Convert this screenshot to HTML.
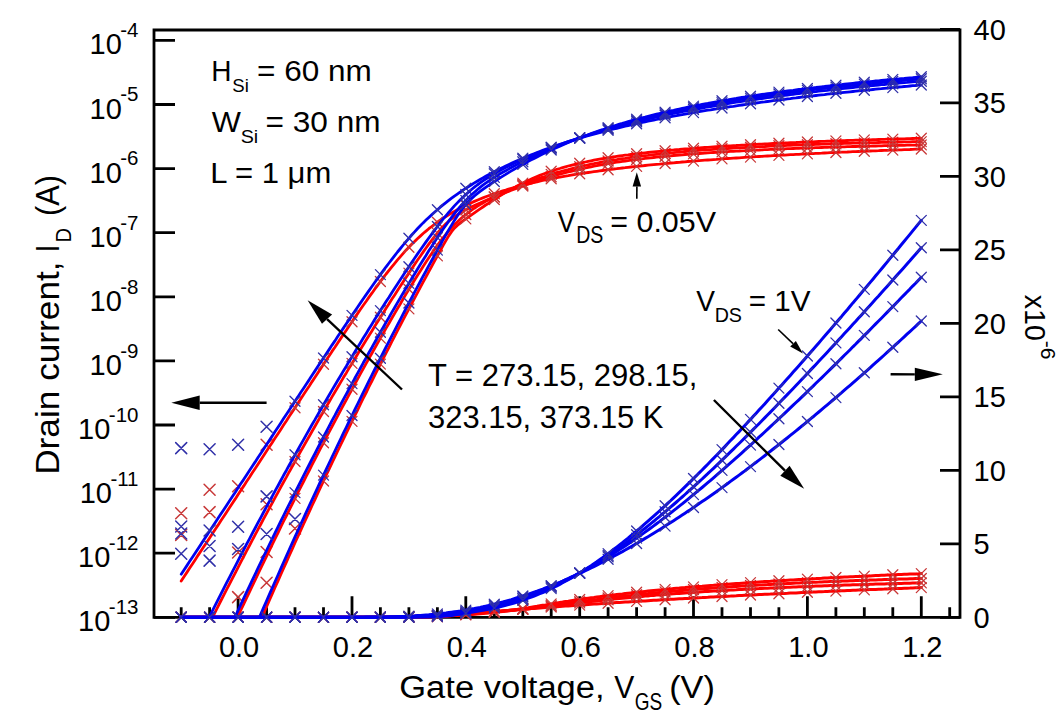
<!DOCTYPE html>
<html><head><meta charset="utf-8"><style>html,body{margin:0;padding:0;background:#fff}svg{display:block}</style></head>
<body><svg width="1058" height="712" viewBox="0 0 1058 712" font-family="Liberation Sans, sans-serif">
<rect width="1058" height="712" fill="#fff"/>
<path d="M154.0,30.0 H960.0 V617.3 H154.0 Z" fill="none" stroke="#000" stroke-width="2.8"/>
<path d="M154.0,40.4H175.0M154.0,104.5H175.0M154.0,168.6H175.0M154.0,232.7H175.0M154.0,296.8H175.0M154.0,360.9H175.0M154.0,425.0H175.0M154.0,489.1H175.0M154.0,553.2H175.0M154.0,617.3H175.0M960.0,617.3H940.0M960.0,543.8H940.0M960.0,470.3H940.0M960.0,396.8H940.0M960.0,323.3H940.0M960.0,249.8H940.0M960.0,176.3H940.0M960.0,102.8H940.0M960.0,29.3H940.0M181.2,617.3V607.3M209.6,617.3V607.3M238.1,617.3V596.3M266.6,617.3V607.3M295.0,617.3V607.3M323.5,617.3V607.3M352.0,617.3V596.3M380.4,617.3V607.3M408.9,617.3V607.3M437.4,617.3V607.3M465.8,617.3V596.3M494.3,617.3V607.3M522.8,617.3V607.3M551.2,617.3V607.3M579.7,617.3V596.3M608.1,617.3V607.3M636.6,617.3V607.3M665.1,617.3V607.3M693.5,617.3V596.3M722.0,617.3V607.3M750.5,617.3V607.3M778.9,617.3V607.3M807.4,617.3V596.3M835.9,617.3V607.3M864.3,617.3V607.3M892.8,617.3V607.3M921.3,617.3V596.3M949.7,617.3V607.3" stroke="#000" stroke-width="2.8" fill="none"/>
<defs><clipPath id="pa"><rect x="155" y="31" width="804" height="586"/></clipPath></defs>
<g fill="none" stroke-linejoin="round" stroke-linecap="round">
<path d="M175.7,507.8L186.7,518.8M175.7,518.8L186.7,507.8M175.7,529.5L186.7,540.5M175.7,540.5L186.7,529.5M204.1,484.2L215.1,495.2M204.1,495.2L215.1,484.2M204.1,506.6L215.1,517.6M204.1,517.6L215.1,506.6M232.6,480.8L243.6,491.8M232.6,491.8L243.6,480.8M232.6,547.0L243.6,558.0M232.6,558.0L243.6,547.0M232.6,591.6L243.6,602.6M232.6,602.6L243.6,591.6M261.1,439.2L272.1,450.2M261.1,450.2L272.1,439.2M261.1,498.8L272.1,509.8M261.1,509.8L272.1,498.8M261.1,546.5L272.1,557.5M261.1,557.5L272.1,546.5M261.1,577.3L272.1,588.3M261.1,588.3L272.1,577.3M289.5,523.0L300.5,534.0M289.5,534.0L300.5,523.0" stroke="#c83838" stroke-width="1.5"/>
<path clip-path="url(#pa)" d="M181.2,581.1 L184.0,576.7 L186.9,572.4 L189.7,568.1 L192.6,563.8 L195.4,559.5 L198.2,555.1 L201.1,550.8 L203.9,546.5 L206.8,542.2 L209.6,537.9 L212.5,533.5 L215.3,529.2 L218.2,524.9 L221.0,520.5 L223.9,516.2 L226.7,511.9 L229.6,507.5 L232.4,503.2 L235.3,498.9 L238.1,494.5 L240.9,490.2 L243.8,485.9 L246.6,481.5 L249.5,477.2 L252.3,472.8 L255.2,468.5 L258.0,464.2 L260.9,459.8 L263.7,455.5 L266.6,451.1 L269.4,446.8 L272.3,442.4 L275.1,438.1 L278.0,433.7 L280.8,429.4 L283.6,425.0 L286.5,420.7 L289.3,416.3 L292.2,412.0 L295.0,407.7 L297.9,403.3 L300.7,399.0 L303.6,394.6 L306.4,390.3 L309.3,386.0 L312.1,381.6 L315.0,377.3 L317.8,373.0 L320.6,368.7 L323.5,364.3 L326.3,360.0 L329.2,355.7 L332.0,351.4 L334.9,347.2 L337.7,342.9 L340.6,338.6 L343.4,334.4 L346.3,330.2 L349.1,325.9 L352.0,321.8 L354.8,317.6 L357.7,313.4 L360.5,309.3 L363.3,305.2 L366.2,301.2 L369.0,297.1 L371.9,293.2 L374.7,289.2 L377.6,285.3 L380.4,281.5 L383.3,277.7 L386.1,274.0 L389.0,270.4 L391.8,266.8 L394.7,263.3 L397.5,259.9 L400.4,256.6 L403.2,253.4 L406.0,250.2 L408.9,247.2 L411.7,244.3 L414.6,241.4 L417.4,238.7 L420.3,236.1 L423.1,233.5 L426.0,231.1 L428.8,228.7 L431.7,226.5 L434.5,224.3 L437.4,222.2 L440.2,220.2 L443.0,218.3 L445.9,216.5 L448.7,214.7 L451.6,213.0 L454.4,211.4 L457.3,209.8 L460.1,208.3 L463.0,206.8 L465.8,205.4 L468.7,204.0 L471.5,202.7 L474.4,201.4 L477.2,200.2 L480.1,199.0 L482.9,197.9 L485.7,196.8 L488.6,195.7 L491.4,194.7 L494.3,193.7 L497.1,192.7 L500.0,191.8 L502.8,190.8 L505.7,190.0 L508.5,189.1 L511.4,188.3 L514.2,187.5 L517.1,186.7 L519.9,185.9 L522.8,185.2 L525.6,184.5 L528.4,183.8 L531.3,183.1 L534.1,182.4 L537.0,181.8 L539.8,181.1 L542.7,180.5 L545.5,179.9 L548.4,179.4 L551.2,178.8 L554.1,178.2 L556.9,177.7 L559.8,177.2 L562.6,176.6 L565.4,176.1 L568.3,175.7 L571.1,175.2 L574.0,174.7 L576.8,174.2 L579.7,173.8 L582.5,173.3 L585.4,172.9 L588.2,172.5 L591.1,172.1 L593.9,171.7 L596.8,171.3 L599.6,170.9 L602.5,170.5 L605.3,170.1 L608.1,169.7 L611.0,169.4 L613.8,169.0 L616.7,168.7 L619.5,168.3 L622.4,168.0 L625.2,167.7 L628.1,167.3 L630.9,167.0 L633.8,166.7 L636.6,166.4 L639.5,166.1 L642.3,165.8 L645.1,165.5 L648.0,165.2 L650.8,164.9 L653.7,164.6 L656.5,164.3 L659.4,164.1 L662.2,163.8 L665.1,163.5 L667.9,163.3 L670.8,163.0 L673.6,162.8 L676.5,162.5 L679.3,162.3 L682.2,162.0 L685.0,161.8 L687.8,161.5 L690.7,161.3 L693.5,161.1 L696.4,160.9 L699.2,160.6 L702.1,160.4 L704.9,160.2 L707.8,160.0 L710.6,159.8 L713.5,159.6 L716.3,159.4 L719.2,159.1 L722.0,158.9 L724.9,158.7 L727.7,158.5 L730.5,158.4 L733.4,158.2 L736.2,158.0 L739.1,157.8 L741.9,157.6 L744.8,157.4 L747.6,157.2 L750.5,157.1 L753.3,156.9 L756.2,156.7 L759.0,156.5 L761.9,156.4 L764.7,156.2 L767.5,156.0 L770.4,155.9 L773.2,155.7 L776.1,155.5 L778.9,155.4 L781.8,155.2 L784.6,155.1 L787.5,154.9 L790.3,154.7 L793.2,154.6 L796.0,154.4 L798.9,154.3 L801.7,154.1 L804.6,154.0 L807.4,153.9 L810.2,153.7 L813.1,153.6 L815.9,153.4 L818.8,153.3 L821.6,153.2 L824.5,153.0 L827.3,152.9 L830.2,152.7 L833.0,152.6 L835.9,152.5 L838.7,152.4 L841.6,152.2 L844.4,152.1 L847.3,152.0 L850.1,151.8 L852.9,151.7 L855.8,151.6 L858.6,151.5 L861.5,151.4 L864.3,151.2 L867.2,151.1 L870.0,151.0 L872.9,150.9 L875.7,150.8 L878.6,150.7 L881.4,150.5 L884.3,150.4 L887.1,150.3 L889.9,150.2 L892.8,150.1 L895.6,150.0 L898.5,149.9 L901.3,149.8 L904.2,149.7 L907.0,149.6 L909.9,149.5 L912.7,149.3 L915.6,149.2 L918.4,149.1 L921.3,149.0" stroke="#ff0000" stroke-width="2.8"/>
<path d="M290.0,402.7L300.0,412.7M290.0,412.7L300.0,402.7M318.5,359.3L328.5,369.3M318.5,369.3L328.5,359.3M347.0,316.8L357.0,326.8M347.0,326.8L357.0,316.8M375.4,276.5L385.4,286.5M375.4,286.5L385.4,276.5M403.9,242.2L413.9,252.2M403.9,252.2L413.9,242.2M432.4,217.2L442.4,227.2M432.4,227.2L442.4,217.2M460.8,200.4L470.8,210.4M460.8,210.4L470.8,200.4M489.3,188.7L499.3,198.7M489.3,198.7L499.3,188.7M517.8,180.2L527.8,190.2M517.8,190.2L527.8,180.2M546.2,173.8L556.2,183.8M546.2,183.8L556.2,173.8M574.7,168.8L584.7,178.8M574.7,178.8L584.7,168.8M603.1,164.7L613.1,174.7M603.1,174.7L613.1,164.7M631.6,161.4L641.6,171.4M631.6,171.4L641.6,161.4M660.1,158.5L670.1,168.5M660.1,168.5L670.1,158.5M688.5,156.1L698.5,166.1M688.5,166.1L698.5,156.1M717.0,153.9L727.0,163.9M717.0,163.9L727.0,153.9M745.5,152.1L755.5,162.1M745.5,162.1L755.5,152.1M773.9,150.4L783.9,160.4M773.9,160.4L783.9,150.4M802.4,148.9L812.4,158.9M802.4,158.9L812.4,148.9M830.9,147.5L840.9,157.5M830.9,157.5L840.9,147.5M859.3,146.2L869.3,156.2M859.3,156.2L869.3,146.2M887.8,145.1L897.8,155.1M887.8,155.1L897.8,145.1M916.3,144.0L926.3,154.0M916.3,154.0L926.3,144.0" stroke="#c83838" stroke-width="1.3"/>
<path d="M181.2,617.3 L184.0,617.3 L186.9,617.3 L189.7,617.3 L192.6,617.3 L195.4,617.3 L198.2,617.3 L201.1,617.3 L203.9,617.3 L206.8,617.3 L209.6,617.3 L212.5,617.3 L215.3,617.3 L218.2,617.3 L221.0,617.3 L223.9,617.3 L226.7,617.3 L229.6,617.3 L232.4,617.3 L235.3,617.3 L238.1,617.3 L240.9,617.3 L243.8,617.3 L246.6,617.3 L249.5,617.3 L252.3,617.3 L255.2,617.3 L258.0,617.3 L260.9,617.3 L263.7,617.3 L266.6,617.3 L269.4,617.3 L272.3,617.3 L275.1,617.3 L278.0,617.3 L280.8,617.3 L283.6,617.3 L286.5,617.3 L289.3,617.3 L292.2,617.3 L295.0,617.3 L297.9,617.3 L300.7,617.3 L303.6,617.3 L306.4,617.3 L309.3,617.3 L312.1,617.3 L315.0,617.3 L317.8,617.3 L320.6,617.3 L323.5,617.3 L326.3,617.3 L329.2,617.3 L332.0,617.3 L334.9,617.3 L337.7,617.3 L340.6,617.3 L343.4,617.3 L346.3,617.3 L349.1,617.2 L352.0,617.2 L354.8,617.2 L357.7,617.2 L360.5,617.2 L363.3,617.2 L366.2,617.2 L369.0,617.2 L371.9,617.1 L374.7,617.1 L377.6,617.1 L380.4,617.0 L383.3,617.0 L386.1,617.0 L389.0,616.9 L391.8,616.9 L394.7,616.8 L397.5,616.7 L400.4,616.7 L403.2,616.6 L406.0,616.5 L408.9,616.4 L411.7,616.3 L414.6,616.2 L417.4,616.1 L420.3,616.0 L423.1,615.9 L426.0,615.7 L428.8,615.6 L431.7,615.5 L434.5,615.3 L437.4,615.2 L440.2,615.0 L443.0,614.8 L445.9,614.7 L448.7,614.5 L451.6,614.3 L454.4,614.1 L457.3,614.0 L460.1,613.8 L463.0,613.6 L465.8,613.4 L468.7,613.2 L471.5,613.0 L474.4,612.8 L477.2,612.6 L480.1,612.4 L482.9,612.2 L485.7,612.0 L488.6,611.7 L491.4,611.5 L494.3,611.3 L497.1,611.1 L500.0,610.9 L502.8,610.7 L505.7,610.5 L508.5,610.3 L511.4,610.0 L514.2,609.8 L517.1,609.6 L519.9,609.4 L522.8,609.2 L525.6,609.0 L528.4,608.8 L531.3,608.6 L534.1,608.4 L537.0,608.1 L539.8,607.9 L542.7,607.7 L545.5,607.5 L548.4,607.3 L551.2,607.1 L554.1,606.9 L556.9,606.7 L559.8,606.5 L562.6,606.3 L565.4,606.1 L568.3,605.9 L571.1,605.7 L574.0,605.5 L576.8,605.3 L579.7,605.1 L582.5,604.9 L585.4,604.7 L588.2,604.5 L591.1,604.3 L593.9,604.1 L596.8,603.9 L599.6,603.8 L602.5,603.6 L605.3,603.4 L608.1,603.2 L611.0,603.0 L613.8,602.8 L616.7,602.6 L619.5,602.5 L622.4,602.3 L625.2,602.1 L628.1,601.9 L630.9,601.7 L633.8,601.6 L636.6,601.4 L639.5,601.2 L642.3,601.0 L645.1,600.9 L648.0,600.7 L650.8,600.5 L653.7,600.3 L656.5,600.2 L659.4,600.0 L662.2,599.8 L665.1,599.7 L667.9,599.5 L670.8,599.3 L673.6,599.2 L676.5,599.0 L679.3,598.8 L682.2,598.7 L685.0,598.5 L687.8,598.4 L690.7,598.2 L693.5,598.0 L696.4,597.9 L699.2,597.7 L702.1,597.6 L704.9,597.4 L707.8,597.3 L710.6,597.1 L713.5,597.0 L716.3,596.8 L719.2,596.7 L722.0,596.5 L724.9,596.4 L727.7,596.2 L730.5,596.1 L733.4,595.9 L736.2,595.8 L739.1,595.6 L741.9,595.5 L744.8,595.3 L747.6,595.2 L750.5,595.0 L753.3,594.9 L756.2,594.8 L759.0,594.6 L761.9,594.5 L764.7,594.3 L767.5,594.2 L770.4,594.1 L773.2,593.9 L776.1,593.8 L778.9,593.7 L781.8,593.5 L784.6,593.4 L787.5,593.3 L790.3,593.1 L793.2,593.0 L796.0,592.9 L798.9,592.7 L801.7,592.6 L804.6,592.5 L807.4,592.3 L810.2,592.2 L813.1,592.1 L815.9,591.9 L818.8,591.8 L821.6,591.7 L824.5,591.6 L827.3,591.4 L830.2,591.3 L833.0,591.2 L835.9,591.1 L838.7,590.9 L841.6,590.8 L844.4,590.7 L847.3,590.6 L850.1,590.5 L852.9,590.3 L855.8,590.2 L858.6,590.1 L861.5,590.0 L864.3,589.9 L867.2,589.8 L870.0,589.6 L872.9,589.5 L875.7,589.4 L878.6,589.3 L881.4,589.2 L884.3,589.1 L887.1,588.9 L889.9,588.8 L892.8,588.7 L895.6,588.6 L898.5,588.5 L901.3,588.4 L904.2,588.3 L907.0,588.2 L909.9,588.1 L912.7,587.9 L915.6,587.8 L918.4,587.7 L921.3,587.6" stroke="#ff0000" stroke-width="3"/>
<path d="M176.2,612.3L186.2,622.3M176.2,622.3L186.2,612.3M204.6,612.3L214.6,622.3M204.6,622.3L214.6,612.3M233.1,612.3L243.1,622.3M233.1,622.3L243.1,612.3M261.6,612.3L271.6,622.3M261.6,622.3L271.6,612.3M290.0,612.3L300.0,622.3M290.0,622.3L300.0,612.3M318.5,612.3L328.5,622.3M318.5,622.3L328.5,612.3M347.0,612.2L357.0,622.2M347.0,622.2L357.0,612.2M375.4,612.0L385.4,622.0M375.4,622.0L385.4,612.0M403.9,611.4L413.9,621.4M403.9,621.4L413.9,611.4M432.4,610.2L442.4,620.2M432.4,620.2L442.4,610.2M460.8,608.4L470.8,618.4M460.8,618.4L470.8,608.4M489.3,606.3L499.3,616.3M489.3,616.3L499.3,606.3M517.8,604.2L527.8,614.2M517.8,614.2L527.8,604.2M546.2,602.1L556.2,612.1M546.2,612.1L556.2,602.1M574.7,600.1L584.7,610.1M574.7,610.1L584.7,600.1M603.1,598.2L613.1,608.2M603.1,608.2L613.1,598.2M631.6,596.4L641.6,606.4M631.6,606.4L641.6,596.4M660.1,594.7L670.1,604.7M660.1,604.7L670.1,594.7M688.5,593.0L698.5,603.0M688.5,603.0L698.5,593.0M717.0,591.5L727.0,601.5M717.0,601.5L727.0,591.5M745.5,590.0L755.5,600.0M745.5,600.0L755.5,590.0M773.9,588.7L783.9,598.7M773.9,598.7L783.9,588.7M802.4,587.3L812.4,597.3M802.4,597.3L812.4,587.3M830.9,586.1L840.9,596.1M830.9,596.1L840.9,586.1M859.3,584.9L869.3,594.9M859.3,594.9L869.3,584.9M887.8,583.7L897.8,593.7M887.8,593.7L897.8,583.7M916.3,582.6L926.3,592.6M916.3,592.6L926.3,582.6" stroke="#c83838" stroke-width="1.3"/>
<path clip-path="url(#pa)" d="M181.2,680.8 L184.0,674.9 L186.9,669.1 L189.7,663.3 L192.6,657.5 L195.4,651.7 L198.2,645.9 L201.1,640.2 L203.9,634.5 L206.8,628.8 L209.6,623.1 L212.5,617.4 L215.3,611.8 L218.2,606.1 L221.0,600.5 L223.9,594.9 L226.7,589.4 L229.6,583.8 L232.4,578.3 L235.3,572.8 L238.1,567.3 L240.9,561.8 L243.8,556.4 L246.6,550.9 L249.5,545.5 L252.3,540.1 L255.2,534.7 L258.0,529.4 L260.9,524.0 L263.7,518.7 L266.6,513.4 L269.4,508.2 L272.3,502.9 L275.1,497.6 L278.0,492.4 L280.8,487.2 L283.6,482.0 L286.5,476.9 L289.3,471.7 L292.2,466.6 L295.0,461.5 L297.9,456.4 L300.7,451.3 L303.6,446.3 L306.4,441.3 L309.3,436.2 L312.1,431.3 L315.0,426.3 L317.8,421.3 L320.6,416.4 L323.5,411.5 L326.3,406.6 L329.2,401.7 L332.0,396.9 L334.9,392.0 L337.7,387.2 L340.6,382.4 L343.4,377.6 L346.3,372.9 L349.1,368.1 L352.0,363.4 L354.8,358.7 L357.7,354.0 L360.5,349.3 L363.3,344.7 L366.2,340.1 L369.0,335.5 L371.9,330.9 L374.7,326.3 L377.6,321.8 L380.4,317.2 L383.3,312.7 L386.1,308.2 L389.0,303.8 L391.8,299.3 L394.7,294.9 L397.5,290.5 L400.4,286.1 L403.2,281.7 L406.0,277.4 L408.9,273.1 L411.7,268.8 L414.6,264.5 L417.4,260.3 L420.3,256.2 L423.1,252.1 L426.0,248.0 L428.8,244.1 L431.7,240.3 L434.5,236.6 L437.4,233.1 L440.2,229.8 L443.0,226.7 L445.9,223.8 L448.7,221.2 L451.6,218.9 L454.4,216.7 L457.3,214.8 L460.1,213.0 L463.0,211.3 L465.8,209.8 L468.7,208.3 L471.5,207.0 L474.4,205.6 L477.2,204.3 L480.1,203.1 L482.9,201.8 L485.7,200.6 L488.6,199.4 L491.4,198.2 L494.3,197.0 L497.1,195.9 L500.0,194.7 L502.8,193.6 L505.7,192.5 L508.5,191.4 L511.4,190.3 L514.2,189.2 L517.1,188.1 L519.9,187.1 L522.8,186.1 L525.6,185.0 L528.4,184.0 L531.3,183.1 L534.1,182.1 L537.0,181.1 L539.8,180.2 L542.7,179.3 L545.5,178.4 L548.4,177.5 L551.2,176.7 L554.1,175.9 L556.9,175.0 L559.8,174.2 L562.6,173.5 L565.4,172.7 L568.3,172.0 L571.1,171.3 L574.0,170.6 L576.8,169.9 L579.7,169.2 L582.5,168.6 L585.4,168.0 L588.2,167.4 L591.1,166.8 L593.9,166.2 L596.8,165.7 L599.6,165.1 L602.5,164.6 L605.3,164.1 L608.1,163.6 L611.0,163.2 L613.8,162.7 L616.7,162.2 L619.5,161.8 L622.4,161.4 L625.2,161.0 L628.1,160.6 L630.9,160.2 L633.8,159.8 L636.6,159.5 L639.5,159.1 L642.3,158.8 L645.1,158.4 L648.0,158.1 L650.8,157.8 L653.7,157.5 L656.5,157.2 L659.4,156.9 L662.2,156.6 L665.1,156.3 L667.9,156.0 L670.8,155.8 L673.6,155.5 L676.5,155.3 L679.3,155.0 L682.2,154.8 L685.0,154.5 L687.8,154.3 L690.7,154.1 L693.5,153.9 L696.4,153.7 L699.2,153.5 L702.1,153.3 L704.9,153.1 L707.8,152.9 L710.6,152.7 L713.5,152.5 L716.3,152.3 L719.2,152.1 L722.0,151.9 L724.9,151.8 L727.7,151.6 L730.5,151.4 L733.4,151.3 L736.2,151.1 L739.1,151.0 L741.9,150.8 L744.8,150.7 L747.6,150.5 L750.5,150.4 L753.3,150.2 L756.2,150.1 L759.0,150.0 L761.9,149.8 L764.7,149.7 L767.5,149.6 L770.4,149.4 L773.2,149.3 L776.1,149.2 L778.9,149.1 L781.8,149.0 L784.6,148.8 L787.5,148.7 L790.3,148.6 L793.2,148.5 L796.0,148.4 L798.9,148.3 L801.7,148.2 L804.6,148.1 L807.4,148.0 L810.2,147.9 L813.1,147.8 L815.9,147.7 L818.8,147.6 L821.6,147.5 L824.5,147.4 L827.3,147.3 L830.2,147.2 L833.0,147.1 L835.9,147.0 L838.7,147.0 L841.6,146.9 L844.4,146.8 L847.3,146.7 L850.1,146.6 L852.9,146.5 L855.8,146.5 L858.6,146.4 L861.5,146.3 L864.3,146.2 L867.2,146.2 L870.0,146.1 L872.9,146.0 L875.7,146.0 L878.6,145.9 L881.4,145.8 L884.3,145.7 L887.1,145.7 L889.9,145.6 L892.8,145.5 L895.6,145.5 L898.5,145.4 L901.3,145.4 L904.2,145.3 L907.0,145.2 L909.9,145.2 L912.7,145.1 L915.6,145.1 L918.4,145.0 L921.3,144.9" stroke="#ff0000" stroke-width="2.8"/>
<path d="M290.0,456.5L300.0,466.5M290.0,466.5L300.0,456.5M318.5,406.5L328.5,416.5M318.5,416.5L328.5,406.5M347.0,358.4L357.0,368.4M347.0,368.4L357.0,358.4M375.4,312.2L385.4,322.2M375.4,322.2L385.4,312.2M403.9,268.1L413.9,278.1M403.9,278.1L413.9,268.1M432.4,228.1L442.4,238.1M432.4,238.1L442.4,228.1M460.8,204.8L470.8,214.8M460.8,214.8L470.8,204.8M489.3,192.0L499.3,202.0M489.3,202.0L499.3,192.0M517.8,181.1L527.8,191.1M517.8,191.1L527.8,181.1M546.2,171.7L556.2,181.7M546.2,181.7L556.2,171.7M574.7,164.2L584.7,174.2M574.7,174.2L584.7,164.2M603.1,158.6L613.1,168.6M603.1,168.6L613.1,158.6M631.6,154.5L641.6,164.5M631.6,164.5L641.6,154.5M660.1,151.3L670.1,161.3M660.1,161.3L670.1,151.3M688.5,148.9L698.5,158.9M688.5,158.9L698.5,148.9M717.0,146.9L727.0,156.9M717.0,156.9L727.0,146.9M745.5,145.4L755.5,155.4M745.5,155.4L755.5,145.4M773.9,144.1L783.9,154.1M773.9,154.1L783.9,144.1M802.4,143.0L812.4,153.0M802.4,153.0L812.4,143.0M830.9,142.0L840.9,152.0M830.9,152.0L840.9,142.0M859.3,141.2L869.3,151.2M859.3,151.2L869.3,141.2M887.8,140.5L897.8,150.5M887.8,150.5L897.8,140.5M916.3,139.9L926.3,149.9M916.3,149.9L926.3,139.9" stroke="#c83838" stroke-width="1.3"/>
<path d="M181.2,617.3 L184.0,617.3 L186.9,617.3 L189.7,617.3 L192.6,617.3 L195.4,617.3 L198.2,617.3 L201.1,617.3 L203.9,617.3 L206.8,617.3 L209.6,617.3 L212.5,617.3 L215.3,617.3 L218.2,617.3 L221.0,617.3 L223.9,617.3 L226.7,617.3 L229.6,617.3 L232.4,617.3 L235.3,617.3 L238.1,617.3 L240.9,617.3 L243.8,617.3 L246.6,617.3 L249.5,617.3 L252.3,617.3 L255.2,617.3 L258.0,617.3 L260.9,617.3 L263.7,617.3 L266.6,617.3 L269.4,617.3 L272.3,617.3 L275.1,617.3 L278.0,617.3 L280.8,617.3 L283.6,617.3 L286.5,617.3 L289.3,617.3 L292.2,617.3 L295.0,617.3 L297.9,617.3 L300.7,617.3 L303.6,617.3 L306.4,617.3 L309.3,617.3 L312.1,617.3 L315.0,617.3 L317.8,617.3 L320.6,617.3 L323.5,617.3 L326.3,617.3 L329.2,617.3 L332.0,617.3 L334.9,617.3 L337.7,617.3 L340.6,617.3 L343.4,617.3 L346.3,617.3 L349.1,617.3 L352.0,617.3 L354.8,617.3 L357.7,617.3 L360.5,617.3 L363.3,617.3 L366.2,617.3 L369.0,617.3 L371.9,617.3 L374.7,617.2 L377.6,617.2 L380.4,617.2 L383.3,617.2 L386.1,617.2 L389.0,617.2 L391.8,617.2 L394.7,617.1 L397.5,617.1 L400.4,617.1 L403.2,617.0 L406.0,617.0 L408.9,617.0 L411.7,616.9 L414.6,616.8 L417.4,616.8 L420.3,616.7 L423.1,616.6 L426.0,616.5 L428.8,616.3 L431.7,616.2 L434.5,616.0 L437.4,615.8 L440.2,615.7 L443.0,615.5 L445.9,615.3 L448.7,615.1 L451.6,614.9 L454.4,614.7 L457.3,614.5 L460.1,614.3 L463.0,614.1 L465.8,614.0 L468.7,613.8 L471.5,613.6 L474.4,613.4 L477.2,613.2 L480.1,613.0 L482.9,612.8 L485.7,612.6 L488.6,612.4 L491.4,612.2 L494.3,612.0 L497.1,611.8 L500.0,611.6 L502.8,611.3 L505.7,611.1 L508.5,610.8 L511.4,610.6 L514.2,610.3 L517.1,610.0 L519.9,609.7 L522.8,609.4 L525.6,609.2 L528.4,608.9 L531.3,608.6 L534.1,608.2 L537.0,607.9 L539.8,607.6 L542.7,607.3 L545.5,607.0 L548.4,606.6 L551.2,606.3 L554.1,606.0 L556.9,605.6 L559.8,605.3 L562.6,605.0 L565.4,604.6 L568.3,604.3 L571.1,603.9 L574.0,603.6 L576.8,603.3 L579.7,602.9 L582.5,602.6 L585.4,602.3 L588.2,601.9 L591.1,601.6 L593.9,601.3 L596.8,601.0 L599.6,600.7 L602.5,600.3 L605.3,600.0 L608.1,599.7 L611.0,599.4 L613.8,599.1 L616.7,598.8 L619.5,598.5 L622.4,598.3 L625.2,598.0 L628.1,597.7 L630.9,597.4 L633.8,597.1 L636.6,596.9 L639.5,596.6 L642.3,596.4 L645.1,596.1 L648.0,595.9 L650.8,595.6 L653.7,595.4 L656.5,595.1 L659.4,594.9 L662.2,594.7 L665.1,594.4 L667.9,594.2 L670.8,594.0 L673.6,593.8 L676.5,593.6 L679.3,593.4 L682.2,593.2 L685.0,592.9 L687.8,592.7 L690.7,592.5 L693.5,592.4 L696.4,592.2 L699.2,592.0 L702.1,591.8 L704.9,591.6 L707.8,591.4 L710.6,591.2 L713.5,591.1 L716.3,590.9 L719.2,590.7 L722.0,590.6 L724.9,590.4 L727.7,590.2 L730.5,590.1 L733.4,589.9 L736.2,589.8 L739.1,589.6 L741.9,589.5 L744.8,589.3 L747.6,589.2 L750.5,589.0 L753.3,588.9 L756.2,588.7 L759.0,588.6 L761.9,588.4 L764.7,588.3 L767.5,588.2 L770.4,588.0 L773.2,587.9 L776.1,587.8 L778.9,587.7 L781.8,587.5 L784.6,587.4 L787.5,587.3 L790.3,587.2 L793.2,587.0 L796.0,586.9 L798.9,586.8 L801.7,586.7 L804.6,586.6 L807.4,586.5 L810.2,586.4 L813.1,586.2 L815.9,586.1 L818.8,586.0 L821.6,585.9 L824.5,585.8 L827.3,585.7 L830.2,585.6 L833.0,585.5 L835.9,585.4 L838.7,585.3 L841.6,585.2 L844.4,585.1 L847.3,585.0 L850.1,584.9 L852.9,584.8 L855.8,584.8 L858.6,584.7 L861.5,584.6 L864.3,584.5 L867.2,584.4 L870.0,584.3 L872.9,584.2 L875.7,584.1 L878.6,584.1 L881.4,584.0 L884.3,583.9 L887.1,583.8 L889.9,583.7 L892.8,583.7 L895.6,583.6 L898.5,583.5 L901.3,583.4 L904.2,583.3 L907.0,583.3 L909.9,583.2 L912.7,583.1 L915.6,583.1 L918.4,583.0 L921.3,582.9" stroke="#ff0000" stroke-width="3"/>
<path d="M176.2,612.3L186.2,622.3M176.2,622.3L186.2,612.3M204.6,612.3L214.6,622.3M204.6,622.3L214.6,612.3M233.1,612.3L243.1,622.3M233.1,622.3L243.1,612.3M261.6,612.3L271.6,622.3M261.6,622.3L271.6,612.3M290.0,612.3L300.0,622.3M290.0,622.3L300.0,612.3M318.5,612.3L328.5,622.3M318.5,622.3L328.5,612.3M347.0,612.3L357.0,622.3M347.0,622.3L357.0,612.3M375.4,612.2L385.4,622.2M375.4,622.2L385.4,612.2M403.9,612.0L413.9,622.0M403.9,622.0L413.9,612.0M432.4,610.8L442.4,620.8M432.4,620.8L442.4,610.8M460.8,609.0L470.8,619.0M460.8,619.0L470.8,609.0M489.3,607.0L499.3,617.0M489.3,617.0L499.3,607.0M517.8,604.4L527.8,614.4M517.8,614.4L527.8,604.4M546.2,601.3L556.2,611.3M546.2,611.3L556.2,601.3M574.7,597.9L584.7,607.9M574.7,607.9L584.7,597.9M603.1,594.7L613.1,604.7M603.1,604.7L613.1,594.7M631.6,591.9L641.6,601.9M631.6,601.9L641.6,591.9M660.1,589.4L670.1,599.4M660.1,599.4L670.1,589.4M688.5,587.4L698.5,597.4M688.5,597.4L698.5,587.4M717.0,585.6L727.0,595.6M717.0,595.6L727.0,585.6M745.5,584.0L755.5,594.0M745.5,594.0L755.5,584.0M773.9,582.7L783.9,592.7M773.9,592.7L783.9,582.7M802.4,581.5L812.4,591.5M802.4,591.5L812.4,581.5M830.9,580.4L840.9,590.4M830.9,590.4L840.9,580.4M859.3,579.5L869.3,589.5M859.3,589.5L869.3,579.5M887.8,578.7L897.8,588.7M887.8,588.7L897.8,578.7M916.3,577.9L926.3,587.9M916.3,587.9L926.3,577.9" stroke="#c83838" stroke-width="1.3"/>
<path clip-path="url(#pa)" d="M181.2,742.6 L184.0,736.0 L186.9,729.5 L189.7,723.0 L192.6,716.6 L195.4,710.1 L198.2,703.7 L201.1,697.3 L203.9,690.9 L206.8,684.6 L209.6,678.3 L212.5,671.9 L215.3,665.6 L218.2,659.4 L221.0,653.1 L223.9,646.9 L226.7,640.7 L229.6,634.5 L232.4,628.4 L235.3,622.2 L238.1,616.1 L240.9,610.0 L243.8,604.0 L246.6,597.9 L249.5,591.9 L252.3,585.9 L255.2,579.9 L258.0,573.9 L260.9,568.0 L263.7,562.1 L266.6,556.2 L269.4,550.3 L272.3,544.4 L275.1,538.6 L278.0,532.8 L280.8,527.0 L283.6,521.2 L286.5,515.5 L289.3,509.8 L292.2,504.1 L295.0,498.4 L297.9,492.7 L300.7,487.1 L303.6,481.5 L306.4,475.9 L309.3,470.3 L312.1,464.7 L315.0,459.2 L317.8,453.7 L320.6,448.2 L323.5,442.8 L326.3,437.3 L329.2,431.9 L332.0,426.5 L334.9,421.1 L337.7,415.8 L340.6,410.4 L343.4,405.1 L346.3,399.8 L349.1,394.6 L352.0,389.3 L354.8,384.1 L357.7,378.9 L360.5,373.7 L363.3,368.6 L366.2,363.4 L369.0,358.3 L371.9,353.2 L374.7,348.2 L377.6,343.1 L380.4,338.1 L383.3,333.1 L386.1,328.1 L389.0,323.2 L391.8,318.3 L394.7,313.4 L397.5,308.5 L400.4,303.7 L403.2,298.8 L406.0,294.1 L408.9,289.3 L411.7,284.7 L414.6,280.0 L417.4,275.4 L420.3,270.9 L423.1,266.4 L426.0,262.0 L428.8,257.7 L431.7,253.5 L434.5,249.4 L437.4,245.4 L440.2,241.6 L443.0,237.9 L445.9,234.4 L448.7,231.0 L451.6,227.8 L454.4,224.8 L457.3,222.0 L460.1,219.3 L463.0,216.8 L465.8,214.5 L468.7,212.3 L471.5,210.2 L474.4,208.2 L477.2,206.4 L480.1,204.6 L482.9,203.0 L485.7,201.4 L488.6,199.8 L491.4,198.3 L494.3,196.9 L497.1,195.5 L500.0,194.1 L502.8,192.8 L505.7,191.5 L508.5,190.2 L511.4,189.0 L514.2,187.8 L517.1,186.6 L519.9,185.5 L522.8,184.4 L525.6,183.3 L528.4,182.2 L531.3,181.1 L534.1,180.1 L537.0,179.1 L539.8,178.1 L542.7,177.2 L545.5,176.2 L548.4,175.3 L551.2,174.4 L554.1,173.6 L556.9,172.7 L559.8,171.9 L562.6,171.1 L565.4,170.3 L568.3,169.6 L571.1,168.8 L574.0,168.1 L576.8,167.4 L579.7,166.8 L582.5,166.1 L585.4,165.5 L588.2,164.8 L591.1,164.2 L593.9,163.7 L596.8,163.1 L599.6,162.5 L602.5,162.0 L605.3,161.5 L608.1,161.0 L611.0,160.5 L613.8,160.0 L616.7,159.6 L619.5,159.1 L622.4,158.7 L625.2,158.3 L628.1,157.8 L630.9,157.4 L633.8,157.1 L636.6,156.7 L639.5,156.3 L642.3,155.9 L645.1,155.6 L648.0,155.3 L650.8,154.9 L653.7,154.6 L656.5,154.3 L659.4,154.0 L662.2,153.7 L665.1,153.4 L667.9,153.1 L670.8,152.8 L673.6,152.6 L676.5,152.3 L679.3,152.0 L682.2,151.8 L685.0,151.5 L687.8,151.3 L690.7,151.1 L693.5,150.8 L696.4,150.6 L699.2,150.4 L702.1,150.2 L704.9,150.0 L707.8,149.8 L710.6,149.6 L713.5,149.4 L716.3,149.2 L719.2,149.0 L722.0,148.8 L724.9,148.6 L727.7,148.5 L730.5,148.3 L733.4,148.1 L736.2,147.9 L739.1,147.8 L741.9,147.6 L744.8,147.5 L747.6,147.3 L750.5,147.2 L753.3,147.0 L756.2,146.9 L759.0,146.7 L761.9,146.6 L764.7,146.5 L767.5,146.3 L770.4,146.2 L773.2,146.1 L776.1,145.9 L778.9,145.8 L781.8,145.7 L784.6,145.6 L787.5,145.4 L790.3,145.3 L793.2,145.2 L796.0,145.1 L798.9,145.0 L801.7,144.9 L804.6,144.8 L807.4,144.7 L810.2,144.6 L813.1,144.5 L815.9,144.4 L818.8,144.3 L821.6,144.2 L824.5,144.1 L827.3,144.0 L830.2,143.9 L833.0,143.8 L835.9,143.7 L838.7,143.6 L841.6,143.5 L844.4,143.4 L847.3,143.4 L850.1,143.3 L852.9,143.2 L855.8,143.1 L858.6,143.0 L861.5,143.0 L864.3,142.9 L867.2,142.8 L870.0,142.7 L872.9,142.7 L875.7,142.6 L878.6,142.5 L881.4,142.4 L884.3,142.4 L887.1,142.3 L889.9,142.2 L892.8,142.2 L895.6,142.1 L898.5,142.0 L901.3,142.0 L904.2,141.9 L907.0,141.8 L909.9,141.8 L912.7,141.7 L915.6,141.7 L918.4,141.6 L921.3,141.6" stroke="#ff0000" stroke-width="2.8"/>
<path d="M290.0,493.4L300.0,503.4M290.0,503.4L300.0,493.4M318.5,437.8L328.5,447.8M318.5,447.8L328.5,437.8M347.0,384.3L357.0,394.3M347.0,394.3L357.0,384.3M375.4,333.1L385.4,343.1M375.4,343.1L385.4,333.1M403.9,284.3L413.9,294.3M403.9,294.3L413.9,284.3M432.4,240.4L442.4,250.4M432.4,250.4L442.4,240.4M460.8,209.5L470.8,219.5M460.8,219.5L470.8,209.5M489.3,191.9L499.3,201.9M489.3,201.9L499.3,191.9M517.8,179.4L527.8,189.4M517.8,189.4L527.8,179.4M546.2,169.4L556.2,179.4M546.2,179.4L556.2,169.4M574.7,161.8L584.7,171.8M574.7,171.8L584.7,161.8M603.1,156.0L613.1,166.0M603.1,166.0L613.1,156.0M631.6,151.7L641.6,161.7M631.6,161.7L641.6,151.7M660.1,148.4L670.1,158.4M660.1,158.4L670.1,148.4M688.5,145.8L698.5,155.8M688.5,155.8L698.5,145.8M717.0,143.8L727.0,153.8M717.0,153.8L727.0,143.8M745.5,142.2L755.5,152.2M745.5,152.2L755.5,142.2M773.9,140.8L783.9,150.8M773.9,150.8L783.9,140.8M802.4,139.7L812.4,149.7M802.4,149.7L812.4,139.7M830.9,138.7L840.9,148.7M830.9,148.7L840.9,138.7M859.3,137.9L869.3,147.9M859.3,147.9L869.3,137.9M887.8,137.2L897.8,147.2M887.8,147.2L897.8,137.2M916.3,136.6L926.3,146.6M916.3,146.6L926.3,136.6" stroke="#c83838" stroke-width="1.3"/>
<path d="M181.2,617.3 L184.0,617.3 L186.9,617.3 L189.7,617.3 L192.6,617.3 L195.4,617.3 L198.2,617.3 L201.1,617.3 L203.9,617.3 L206.8,617.3 L209.6,617.3 L212.5,617.3 L215.3,617.3 L218.2,617.3 L221.0,617.3 L223.9,617.3 L226.7,617.3 L229.6,617.3 L232.4,617.3 L235.3,617.3 L238.1,617.3 L240.9,617.3 L243.8,617.3 L246.6,617.3 L249.5,617.3 L252.3,617.3 L255.2,617.3 L258.0,617.3 L260.9,617.3 L263.7,617.3 L266.6,617.3 L269.4,617.3 L272.3,617.3 L275.1,617.3 L278.0,617.3 L280.8,617.3 L283.6,617.3 L286.5,617.3 L289.3,617.3 L292.2,617.3 L295.0,617.3 L297.9,617.3 L300.7,617.3 L303.6,617.3 L306.4,617.3 L309.3,617.3 L312.1,617.3 L315.0,617.3 L317.8,617.3 L320.6,617.3 L323.5,617.3 L326.3,617.3 L329.2,617.3 L332.0,617.3 L334.9,617.3 L337.7,617.3 L340.6,617.3 L343.4,617.3 L346.3,617.3 L349.1,617.3 L352.0,617.3 L354.8,617.3 L357.7,617.3 L360.5,617.3 L363.3,617.3 L366.2,617.3 L369.0,617.3 L371.9,617.3 L374.7,617.3 L377.6,617.3 L380.4,617.3 L383.3,617.3 L386.1,617.3 L389.0,617.2 L391.8,617.2 L394.7,617.2 L397.5,617.2 L400.4,617.2 L403.2,617.2 L406.0,617.1 L408.9,617.1 L411.7,617.1 L414.6,617.0 L417.4,617.0 L420.3,616.9 L423.1,616.9 L426.0,616.8 L428.8,616.7 L431.7,616.6 L434.5,616.5 L437.4,616.4 L440.2,616.2 L443.0,616.1 L445.9,615.9 L448.7,615.7 L451.6,615.5 L454.4,615.3 L457.3,615.1 L460.1,614.9 L463.0,614.7 L465.8,614.5 L468.7,614.2 L471.5,614.0 L474.4,613.8 L477.2,613.5 L480.1,613.3 L482.9,613.0 L485.7,612.8 L488.6,612.5 L491.4,612.2 L494.3,612.0 L497.1,611.7 L500.0,611.4 L502.8,611.1 L505.7,610.8 L508.5,610.5 L511.4,610.2 L514.2,609.9 L517.1,609.6 L519.9,609.3 L522.8,609.0 L525.6,608.6 L528.4,608.3 L531.3,607.9 L534.1,607.6 L537.0,607.2 L539.8,606.9 L542.7,606.5 L545.5,606.1 L548.4,605.8 L551.2,605.4 L554.1,605.0 L556.9,604.6 L559.8,604.2 L562.6,603.9 L565.4,603.5 L568.3,603.1 L571.1,602.7 L574.0,602.3 L576.8,602.0 L579.7,601.6 L582.5,601.2 L585.4,600.8 L588.2,600.5 L591.1,600.1 L593.9,599.7 L596.8,599.4 L599.6,599.0 L602.5,598.7 L605.3,598.3 L608.1,598.0 L611.0,597.6 L613.8,597.3 L616.7,597.0 L619.5,596.6 L622.4,596.3 L625.2,596.0 L628.1,595.7 L630.9,595.4 L633.8,595.0 L636.6,594.7 L639.5,594.4 L642.3,594.1 L645.1,593.8 L648.0,593.6 L650.8,593.3 L653.7,593.0 L656.5,592.7 L659.4,592.4 L662.2,592.2 L665.1,591.9 L667.9,591.7 L670.8,591.4 L673.6,591.1 L676.5,590.9 L679.3,590.6 L682.2,590.4 L685.0,590.2 L687.8,589.9 L690.7,589.7 L693.5,589.5 L696.4,589.3 L699.2,589.0 L702.1,588.8 L704.9,588.6 L707.8,588.4 L710.6,588.2 L713.5,588.0 L716.3,587.8 L719.2,587.6 L722.0,587.4 L724.9,587.2 L727.7,587.0 L730.5,586.8 L733.4,586.6 L736.2,586.4 L739.1,586.2 L741.9,586.1 L744.8,585.9 L747.6,585.7 L750.5,585.5 L753.3,585.4 L756.2,585.2 L759.0,585.0 L761.9,584.9 L764.7,584.7 L767.5,584.6 L770.4,584.4 L773.2,584.3 L776.1,584.1 L778.9,584.0 L781.8,583.8 L784.6,583.7 L787.5,583.5 L790.3,583.4 L793.2,583.2 L796.0,583.1 L798.9,583.0 L801.7,582.8 L804.6,582.7 L807.4,582.6 L810.2,582.4 L813.1,582.3 L815.9,582.2 L818.8,582.1 L821.6,581.9 L824.5,581.8 L827.3,581.7 L830.2,581.6 L833.0,581.5 L835.9,581.3 L838.7,581.2 L841.6,581.1 L844.4,581.0 L847.3,580.9 L850.1,580.8 L852.9,580.7 L855.8,580.6 L858.6,580.5 L861.5,580.4 L864.3,580.3 L867.2,580.2 L870.0,580.1 L872.9,580.0 L875.7,579.9 L878.6,579.8 L881.4,579.7 L884.3,579.6 L887.1,579.5 L889.9,579.4 L892.8,579.3 L895.6,579.2 L898.5,579.1 L901.3,579.0 L904.2,579.0 L907.0,578.9 L909.9,578.8 L912.7,578.7 L915.6,578.6 L918.4,578.5 L921.3,578.5" stroke="#ff0000" stroke-width="3"/>
<path d="M176.2,612.3L186.2,622.3M176.2,622.3L186.2,612.3M204.6,612.3L214.6,622.3M204.6,622.3L214.6,612.3M233.1,612.3L243.1,622.3M233.1,622.3L243.1,612.3M261.6,612.3L271.6,622.3M261.6,622.3L271.6,612.3M290.0,612.3L300.0,622.3M290.0,622.3L300.0,612.3M318.5,612.3L328.5,622.3M318.5,622.3L328.5,612.3M347.0,612.3L357.0,622.3M347.0,622.3L357.0,612.3M375.4,612.3L385.4,622.3M375.4,622.3L385.4,612.3M403.9,612.1L413.9,622.1M403.9,622.1L413.9,612.1M432.4,611.4L442.4,621.4M432.4,621.4L442.4,611.4M460.8,609.5L470.8,619.5M460.8,619.5L470.8,609.5M489.3,607.0L499.3,617.0M489.3,617.0L499.3,607.0M517.8,604.0L527.8,614.0M517.8,614.0L527.8,604.0M546.2,600.4L556.2,610.4M546.2,610.4L556.2,600.4M574.7,596.6L584.7,606.6M574.7,606.6L584.7,596.6M603.1,593.0L613.1,603.0M603.1,603.0L613.1,593.0M631.6,589.7L641.6,599.7M631.6,599.7L641.6,589.7M660.1,586.9L670.1,596.9M660.1,596.9L670.1,586.9M688.5,584.5L698.5,594.5M688.5,594.5L698.5,584.5M717.0,582.4L727.0,592.4M717.0,592.4L727.0,582.4M745.5,580.5L755.5,590.5M745.5,590.5L755.5,580.5M773.9,579.0L783.9,589.0M773.9,589.0L783.9,579.0M802.4,577.6L812.4,587.6M802.4,587.6L812.4,577.6M830.9,576.3L840.9,586.3M830.9,586.3L840.9,576.3M859.3,575.3L869.3,585.3M859.3,585.3L869.3,575.3M887.8,574.3L897.8,584.3M887.8,584.3L897.8,574.3M916.3,573.5L926.3,583.5M916.3,583.5L926.3,573.5" stroke="#c83838" stroke-width="1.3"/>
<path clip-path="url(#pa)" d="M181.2,811.9 L184.0,804.8 L186.9,797.6 L189.7,790.5 L192.6,783.4 L195.4,776.4 L198.2,769.3 L201.1,762.3 L203.9,755.3 L206.8,748.3 L209.6,741.3 L212.5,734.4 L215.3,727.5 L218.2,720.6 L221.0,713.7 L223.9,706.9 L226.7,700.0 L229.6,693.2 L232.4,686.5 L235.3,679.7 L238.1,673.0 L240.9,666.2 L243.8,659.5 L246.6,652.9 L249.5,646.2 L252.3,639.6 L255.2,633.0 L258.0,626.4 L260.9,619.8 L263.7,613.3 L266.6,606.8 L269.4,600.3 L272.3,593.8 L275.1,587.3 L278.0,580.9 L280.8,574.5 L283.6,568.1 L286.5,561.8 L289.3,555.4 L292.2,549.1 L295.0,542.8 L297.9,536.5 L300.7,530.3 L303.6,524.0 L306.4,517.8 L309.3,511.6 L312.1,505.5 L315.0,499.3 L317.8,493.2 L320.6,487.1 L323.5,481.0 L326.3,474.9 L329.2,468.9 L332.0,462.9 L334.9,456.9 L337.7,450.9 L340.6,445.0 L343.4,439.1 L346.3,433.2 L349.1,427.3 L352.0,421.4 L354.8,415.6 L357.7,409.8 L360.5,404.0 L363.3,398.2 L366.2,392.5 L369.0,386.7 L371.9,381.0 L374.7,375.4 L377.6,369.7 L380.4,364.1 L383.3,358.4 L386.1,352.8 L389.0,347.3 L391.8,341.7 L394.7,336.2 L397.5,330.7 L400.4,325.2 L403.2,319.7 L406.0,314.3 L408.9,308.9 L411.7,303.5 L414.6,298.1 L417.4,292.8 L420.3,287.4 L423.1,282.1 L426.0,276.8 L428.8,271.6 L431.7,266.3 L434.5,261.1 L437.4,255.9 L440.2,250.8 L443.0,245.6 L445.9,240.6 L448.7,235.9 L451.6,231.7 L454.4,228.2 L457.3,225.4 L460.1,223.1 L463.0,220.9 L465.8,218.9 L468.7,216.8 L471.5,214.8 L474.4,212.8 L477.2,210.8 L480.1,208.9 L482.9,207.0 L485.7,205.0 L488.6,203.2 L491.4,201.3 L494.3,199.5 L497.1,197.6 L500.0,195.9 L502.8,194.1 L505.7,192.4 L508.5,190.8 L511.4,189.2 L514.2,187.6 L517.1,186.0 L519.9,184.5 L522.8,183.1 L525.6,181.7 L528.4,180.4 L531.3,179.1 L534.1,177.8 L537.0,176.6 L539.8,175.4 L542.7,174.3 L545.5,173.2 L548.4,172.2 L551.2,171.2 L554.1,170.3 L556.9,169.3 L559.8,168.5 L562.6,167.6 L565.4,166.8 L568.3,166.0 L571.1,165.3 L574.0,164.6 L576.8,163.9 L579.7,163.2 L582.5,162.6 L585.4,162.0 L588.2,161.4 L591.1,160.8 L593.9,160.2 L596.8,159.7 L599.6,159.2 L602.5,158.7 L605.3,158.2 L608.1,157.8 L611.0,157.3 L613.8,156.9 L616.7,156.4 L619.5,156.0 L622.4,155.6 L625.2,155.2 L628.1,154.9 L630.9,154.5 L633.8,154.1 L636.6,153.8 L639.5,153.5 L642.3,153.1 L645.1,152.8 L648.0,152.5 L650.8,152.2 L653.7,151.9 L656.5,151.6 L659.4,151.3 L662.2,151.0 L665.1,150.8 L667.9,150.5 L670.8,150.2 L673.6,150.0 L676.5,149.7 L679.3,149.5 L682.2,149.2 L685.0,149.0 L687.8,148.8 L690.7,148.6 L693.5,148.3 L696.4,148.1 L699.2,147.9 L702.1,147.7 L704.9,147.5 L707.8,147.3 L710.6,147.1 L713.5,146.9 L716.3,146.7 L719.2,146.5 L722.0,146.3 L724.9,146.2 L727.7,146.0 L730.5,145.8 L733.4,145.6 L736.2,145.5 L739.1,145.3 L741.9,145.1 L744.8,145.0 L747.6,144.8 L750.5,144.7 L753.3,144.5 L756.2,144.4 L759.0,144.2 L761.9,144.1 L764.7,143.9 L767.5,143.8 L770.4,143.6 L773.2,143.5 L776.1,143.4 L778.9,143.2 L781.8,143.1 L784.6,143.0 L787.5,142.8 L790.3,142.7 L793.2,142.6 L796.0,142.5 L798.9,142.3 L801.7,142.2 L804.6,142.1 L807.4,142.0 L810.2,141.9 L813.1,141.8 L815.9,141.6 L818.8,141.5 L821.6,141.4 L824.5,141.3 L827.3,141.2 L830.2,141.1 L833.0,141.0 L835.9,140.9 L838.7,140.8 L841.6,140.7 L844.4,140.6 L847.3,140.5 L850.1,140.4 L852.9,140.3 L855.8,140.2 L858.6,140.1 L861.5,140.0 L864.3,139.9 L867.2,139.8 L870.0,139.8 L872.9,139.7 L875.7,139.6 L878.6,139.5 L881.4,139.4 L884.3,139.3 L887.1,139.2 L889.9,139.2 L892.8,139.1 L895.6,139.0 L898.5,138.9 L901.3,138.8 L904.2,138.8 L907.0,138.7 L909.9,138.6 L912.7,138.5 L915.6,138.4 L918.4,138.4 L921.3,138.3" stroke="#ff0000" stroke-width="2.8"/>
<path d="M318.5,476.0L328.5,486.0M318.5,486.0L328.5,476.0M347.0,416.4L357.0,426.4M347.0,426.4L357.0,416.4M375.4,359.1L385.4,369.1M375.4,369.1L385.4,359.1M403.9,303.9L413.9,313.9M403.9,313.9L413.9,303.9M432.4,250.9L442.4,260.9M432.4,260.9L442.4,250.9M460.8,213.9L470.8,223.9M460.8,223.9L470.8,213.9M489.3,194.5L499.3,204.5M489.3,204.5L499.3,194.5M517.8,178.1L527.8,188.1M517.8,188.1L527.8,178.1M546.2,166.2L556.2,176.2M546.2,176.2L556.2,166.2M574.7,158.2L584.7,168.2M574.7,168.2L584.7,158.2M603.1,152.8L613.1,162.8M603.1,162.8L613.1,152.8M631.6,148.8L641.6,158.8M631.6,158.8L641.6,148.8M660.1,145.8L670.1,155.8M660.1,155.8L670.1,145.8M688.5,143.3L698.5,153.3M688.5,153.3L698.5,143.3M717.0,141.3L727.0,151.3M717.0,151.3L727.0,141.3M745.5,139.7L755.5,149.7M745.5,149.7L755.5,139.7M773.9,138.2L783.9,148.2M773.9,148.2L783.9,138.2M802.4,137.0L812.4,147.0M802.4,147.0L812.4,137.0M830.9,135.9L840.9,145.9M830.9,145.9L840.9,135.9M859.3,134.9L869.3,144.9M859.3,144.9L869.3,134.9M887.8,134.1L897.8,144.1M887.8,144.1L897.8,134.1M916.3,133.3L926.3,143.3M916.3,143.3L926.3,133.3" stroke="#c83838" stroke-width="1.3"/>
<path d="M181.2,617.3 L184.0,617.3 L186.9,617.3 L189.7,617.3 L192.6,617.3 L195.4,617.3 L198.2,617.3 L201.1,617.3 L203.9,617.3 L206.8,617.3 L209.6,617.3 L212.5,617.3 L215.3,617.3 L218.2,617.3 L221.0,617.3 L223.9,617.3 L226.7,617.3 L229.6,617.3 L232.4,617.3 L235.3,617.3 L238.1,617.3 L240.9,617.3 L243.8,617.3 L246.6,617.3 L249.5,617.3 L252.3,617.3 L255.2,617.3 L258.0,617.3 L260.9,617.3 L263.7,617.3 L266.6,617.3 L269.4,617.3 L272.3,617.3 L275.1,617.3 L278.0,617.3 L280.8,617.3 L283.6,617.3 L286.5,617.3 L289.3,617.3 L292.2,617.3 L295.0,617.3 L297.9,617.3 L300.7,617.3 L303.6,617.3 L306.4,617.3 L309.3,617.3 L312.1,617.3 L315.0,617.3 L317.8,617.3 L320.6,617.3 L323.5,617.3 L326.3,617.3 L329.2,617.3 L332.0,617.3 L334.9,617.3 L337.7,617.3 L340.6,617.3 L343.4,617.3 L346.3,617.3 L349.1,617.3 L352.0,617.3 L354.8,617.3 L357.7,617.3 L360.5,617.3 L363.3,617.3 L366.2,617.3 L369.0,617.3 L371.9,617.3 L374.7,617.3 L377.6,617.3 L380.4,617.3 L383.3,617.3 L386.1,617.3 L389.0,617.3 L391.8,617.3 L394.7,617.3 L397.5,617.3 L400.4,617.2 L403.2,617.2 L406.0,617.2 L408.9,617.2 L411.7,617.2 L414.6,617.2 L417.4,617.1 L420.3,617.1 L423.1,617.1 L426.0,617.0 L428.8,616.9 L431.7,616.9 L434.5,616.8 L437.4,616.7 L440.2,616.5 L443.0,616.4 L445.9,616.2 L448.7,616.0 L451.6,615.8 L454.4,615.6 L457.3,615.4 L460.1,615.2 L463.0,615.1 L465.8,614.9 L468.7,614.7 L471.5,614.5 L474.4,614.3 L477.2,614.1 L480.1,613.8 L482.9,613.6 L485.7,613.3 L488.6,613.1 L491.4,612.8 L494.3,612.4 L497.1,612.1 L500.0,611.8 L502.8,611.4 L505.7,611.1 L508.5,610.7 L511.4,610.3 L514.2,609.9 L517.1,609.4 L519.9,609.0 L522.8,608.6 L525.6,608.1 L528.4,607.7 L531.3,607.2 L534.1,606.7 L537.0,606.3 L539.8,605.8 L542.7,605.3 L545.5,604.9 L548.4,604.4 L551.2,603.9 L554.1,603.4 L556.9,603.0 L559.8,602.5 L562.6,602.1 L565.4,601.6 L568.3,601.2 L571.1,600.7 L574.0,600.3 L576.8,599.9 L579.7,599.5 L582.5,599.1 L585.4,598.6 L588.2,598.2 L591.1,597.8 L593.9,597.5 L596.8,597.1 L599.6,596.7 L602.5,596.3 L605.3,596.0 L608.1,595.6 L611.0,595.2 L613.8,594.9 L616.7,594.5 L619.5,594.2 L622.4,593.9 L625.2,593.5 L628.1,593.2 L630.9,592.9 L633.8,592.6 L636.6,592.3 L639.5,592.0 L642.3,591.7 L645.1,591.4 L648.0,591.1 L650.8,590.8 L653.7,590.5 L656.5,590.2 L659.4,589.9 L662.2,589.7 L665.1,589.4 L667.9,589.1 L670.8,588.9 L673.6,588.6 L676.5,588.3 L679.3,588.1 L682.2,587.8 L685.0,587.6 L687.8,587.3 L690.7,587.1 L693.5,586.9 L696.4,586.6 L699.2,586.4 L702.1,586.2 L704.9,585.9 L707.8,585.7 L710.6,585.5 L713.5,585.3 L716.3,585.0 L719.2,584.8 L722.0,584.6 L724.9,584.4 L727.7,584.2 L730.5,584.0 L733.4,583.8 L736.2,583.6 L739.1,583.4 L741.9,583.2 L744.8,583.0 L747.6,582.8 L750.5,582.6 L753.3,582.4 L756.2,582.2 L759.0,582.0 L761.9,581.8 L764.7,581.6 L767.5,581.4 L770.4,581.3 L773.2,581.1 L776.1,580.9 L778.9,580.7 L781.8,580.6 L784.6,580.4 L787.5,580.2 L790.3,580.0 L793.2,579.9 L796.0,579.7 L798.9,579.5 L801.7,579.4 L804.6,579.2 L807.4,579.1 L810.2,578.9 L813.1,578.7 L815.9,578.6 L818.8,578.4 L821.6,578.3 L824.5,578.1 L827.3,578.0 L830.2,577.8 L833.0,577.7 L835.9,577.5 L838.7,577.4 L841.6,577.2 L844.4,577.1 L847.3,577.0 L850.1,576.8 L852.9,576.7 L855.8,576.5 L858.6,576.4 L861.5,576.3 L864.3,576.1 L867.2,576.0 L870.0,575.9 L872.9,575.7 L875.7,575.6 L878.6,575.5 L881.4,575.3 L884.3,575.2 L887.1,575.1 L889.9,575.0 L892.8,574.8 L895.6,574.7 L898.5,574.6 L901.3,574.5 L904.2,574.3 L907.0,574.2 L909.9,574.1 L912.7,574.0 L915.6,573.9 L918.4,573.8 L921.3,573.6" stroke="#ff0000" stroke-width="3"/>
<path d="M176.2,612.3L186.2,622.3M176.2,622.3L186.2,612.3M204.6,612.3L214.6,622.3M204.6,622.3L214.6,612.3M233.1,612.3L243.1,622.3M233.1,622.3L243.1,612.3M261.6,612.3L271.6,622.3M261.6,622.3L271.6,612.3M290.0,612.3L300.0,622.3M290.0,622.3L300.0,612.3M318.5,612.3L328.5,622.3M318.5,622.3L328.5,612.3M347.0,612.3L357.0,622.3M347.0,622.3L357.0,612.3M375.4,612.3L385.4,622.3M375.4,622.3L385.4,612.3M403.9,612.2L413.9,622.2M403.9,622.2L413.9,612.2M432.4,611.7L442.4,621.7M432.4,621.7L442.4,611.7M460.8,609.9L470.8,619.9M460.8,619.9L470.8,609.9M489.3,607.4L499.3,617.4M489.3,617.4L499.3,607.4M517.8,603.6L527.8,613.6M517.8,613.6L527.8,603.6M546.2,598.9L556.2,608.9M546.2,608.9L556.2,598.9M574.7,594.5L584.7,604.5M574.7,604.5L584.7,594.5M603.1,590.6L613.1,600.6M603.1,600.6L613.1,590.6M631.6,587.3L641.6,597.3M631.6,597.3L641.6,587.3M660.1,584.4L670.1,594.4M660.1,594.4L670.1,584.4M688.5,581.9L698.5,591.9M688.5,591.9L698.5,581.9M717.0,579.6L727.0,589.6M717.0,589.6L727.0,579.6M745.5,577.6L755.5,587.6M745.5,587.6L755.5,577.6M773.9,575.7L783.9,585.7M773.9,585.7L783.9,575.7M802.4,574.1L812.4,584.1M802.4,584.1L812.4,574.1M830.9,572.5L840.9,582.5M830.9,582.5L840.9,572.5M859.3,571.1L869.3,581.1M859.3,581.1L869.3,571.1M887.8,569.8L897.8,579.8M887.8,579.8L897.8,569.8M916.3,568.6L926.3,578.6M916.3,578.6L926.3,568.6" stroke="#c83838" stroke-width="1.3"/>
<path clip-path="url(#pa)" d="M181.2,574.2 L184.0,569.9 L186.9,565.6 L189.7,561.3 L192.6,557.0 L195.4,552.7 L198.2,548.4 L201.1,544.1 L203.9,539.7 L206.8,535.4 L209.6,531.1 L212.5,526.8 L215.3,522.5 L218.2,518.1 L221.0,513.8 L223.9,509.5 L226.7,505.2 L229.6,500.8 L232.4,496.5 L235.3,492.2 L238.1,487.8 L240.9,483.5 L243.8,479.2 L246.6,474.9 L249.5,470.5 L252.3,466.2 L255.2,461.9 L258.0,457.5 L260.9,453.2 L263.7,448.9 L266.6,444.5 L269.4,440.2 L272.3,435.9 L275.1,431.5 L278.0,427.2 L280.8,422.9 L283.6,418.5 L286.5,414.2 L289.3,409.9 L292.2,405.5 L295.0,401.2 L297.9,396.9 L300.7,392.5 L303.6,388.2 L306.4,383.9 L309.3,379.6 L312.1,375.2 L315.0,370.9 L317.8,366.6 L320.6,362.3 L323.5,358.0 L326.3,353.7 L329.2,349.4 L332.0,345.1 L334.9,340.9 L337.7,336.6 L340.6,332.3 L343.4,328.1 L346.3,323.8 L349.1,319.6 L352.0,315.4 L354.8,311.2 L357.7,307.0 L360.5,302.9 L363.3,298.7 L366.2,294.6 L369.0,290.6 L371.9,286.5 L374.7,282.5 L377.6,278.5 L380.4,274.6 L383.3,270.7 L386.1,266.8 L389.0,263.0 L391.8,259.3 L394.7,255.6 L397.5,252.0 L400.4,248.5 L403.2,245.0 L406.0,241.6 L408.9,238.3 L411.7,235.0 L414.6,231.9 L417.4,228.8 L420.3,225.8 L423.1,222.9 L426.0,220.1 L428.8,217.4 L431.7,214.7 L434.5,212.2 L437.4,209.7 L440.2,207.2 L443.0,204.9 L445.9,202.6 L448.7,200.4 L451.6,198.2 L454.4,196.1 L457.3,194.1 L460.1,192.1 L463.0,190.2 L465.8,188.3 L468.7,186.5 L471.5,184.7 L474.4,182.9 L477.2,181.2 L480.1,179.5 L482.9,177.9 L485.7,176.3 L488.6,174.7 L491.4,173.2 L494.3,171.7 L497.1,170.2 L500.0,168.8 L502.8,167.4 L505.7,166.0 L508.5,164.7 L511.4,163.4 L514.2,162.1 L517.1,160.8 L519.9,159.6 L522.8,158.3 L525.6,157.1 L528.4,156.0 L531.3,154.8 L534.1,153.7 L537.0,152.6 L539.8,151.5 L542.7,150.4 L545.5,149.4 L548.4,148.4 L551.2,147.3 L554.1,146.4 L556.9,145.4 L559.8,144.4 L562.6,143.5 L565.4,142.6 L568.3,141.6 L571.1,140.8 L574.0,139.9 L576.8,139.0 L579.7,138.2 L582.5,137.3 L585.4,136.5 L588.2,135.7 L591.1,134.9 L593.9,134.1 L596.8,133.3 L599.6,132.6 L602.5,131.8 L605.3,131.1 L608.1,130.4 L611.0,129.7 L613.8,129.0 L616.7,128.3 L619.5,127.6 L622.4,126.9 L625.2,126.2 L628.1,125.6 L630.9,124.9 L633.8,124.3 L636.6,123.7 L639.5,123.0 L642.3,122.4 L645.1,121.8 L648.0,121.2 L650.8,120.6 L653.7,120.1 L656.5,119.5 L659.4,118.9 L662.2,118.4 L665.1,117.8 L667.9,117.3 L670.8,116.7 L673.6,116.2 L676.5,115.7 L679.3,115.1 L682.2,114.6 L685.0,114.1 L687.8,113.6 L690.7,113.1 L693.5,112.6 L696.4,112.1 L699.2,111.7 L702.1,111.2 L704.9,110.7 L707.8,110.2 L710.6,109.8 L713.5,109.3 L716.3,108.9 L719.2,108.4 L722.0,108.0 L724.9,107.5 L727.7,107.1 L730.5,106.7 L733.4,106.3 L736.2,105.8 L739.1,105.4 L741.9,105.0 L744.8,104.6 L747.6,104.2 L750.5,103.8 L753.3,103.4 L756.2,103.0 L759.0,102.6 L761.9,102.2 L764.7,101.9 L767.5,101.5 L770.4,101.1 L773.2,100.7 L776.1,100.4 L778.9,100.0 L781.8,99.6 L784.6,99.3 L787.5,98.9 L790.3,98.6 L793.2,98.2 L796.0,97.9 L798.9,97.5 L801.7,97.2 L804.6,96.9 L807.4,96.5 L810.2,96.2 L813.1,95.9 L815.9,95.5 L818.8,95.2 L821.6,94.9 L824.5,94.6 L827.3,94.2 L830.2,93.9 L833.0,93.6 L835.9,93.3 L838.7,93.0 L841.6,92.7 L844.4,92.4 L847.3,92.1 L850.1,91.8 L852.9,91.5 L855.8,91.2 L858.6,90.9 L861.5,90.6 L864.3,90.3 L867.2,90.1 L870.0,89.8 L872.9,89.5 L875.7,89.2 L878.6,88.9 L881.4,88.7 L884.3,88.4 L887.1,88.1 L889.9,87.8 L892.8,87.6 L895.6,87.3 L898.5,87.0 L901.3,86.8 L904.2,86.5 L907.0,86.3 L909.9,86.0 L912.7,85.7 L915.6,85.5 L918.4,85.2 L921.3,85.0" stroke="#0000f0" stroke-width="2.8"/>
<path d="M290.0,396.2L300.0,406.2M290.0,406.2L300.0,396.2M318.5,353.0L328.5,363.0M318.5,363.0L328.5,353.0M347.0,310.4L357.0,320.4M347.0,320.4L357.0,310.4M375.4,269.6L385.4,279.6M375.4,279.6L385.4,269.6M403.9,233.3L413.9,243.3M403.9,243.3L413.9,233.3M432.4,204.7L442.4,214.7M432.4,214.7L442.4,204.7M460.8,183.3L470.8,193.3M460.8,193.3L470.8,183.3M489.3,166.7L499.3,176.7M489.3,176.7L499.3,166.7M517.8,153.3L527.8,163.3M517.8,163.3L527.8,153.3M546.2,142.3L556.2,152.3M546.2,152.3L556.2,142.3M574.7,133.2L584.7,143.2M574.7,143.2L584.7,133.2M603.1,125.4L613.1,135.4M603.1,135.4L613.1,125.4M631.6,118.7L641.6,128.7M631.6,128.7L641.6,118.7M660.1,112.8L670.1,122.8M660.1,122.8L670.1,112.8M688.5,107.6L698.5,117.6M688.5,117.6L698.5,107.6M717.0,103.0L727.0,113.0M717.0,113.0L727.0,103.0M745.5,98.8L755.5,108.8M745.5,108.8L755.5,98.8M773.9,95.0L783.9,105.0M773.9,105.0L783.9,95.0M802.4,91.5L812.4,101.5M802.4,101.5L812.4,91.5M830.9,88.3L840.9,98.3M830.9,98.3L840.9,88.3M859.3,85.3L869.3,95.3M859.3,95.3L869.3,85.3M887.8,82.6L897.8,92.6M887.8,92.6L897.8,82.6M916.3,80.0L926.3,90.0M916.3,90.0L926.3,80.0" stroke="#3030a8" stroke-width="1.3"/>
<path d="M181.2,617.3 L184.0,617.3 L186.9,617.3 L189.7,617.3 L192.6,617.3 L195.4,617.3 L198.2,617.3 L201.1,617.3 L203.9,617.3 L206.8,617.3 L209.6,617.3 L212.5,617.3 L215.3,617.3 L218.2,617.3 L221.0,617.3 L223.9,617.3 L226.7,617.3 L229.6,617.3 L232.4,617.3 L235.3,617.3 L238.1,617.3 L240.9,617.3 L243.8,617.3 L246.6,617.3 L249.5,617.3 L252.3,617.3 L255.2,617.3 L258.0,617.3 L260.9,617.3 L263.7,617.3 L266.6,617.3 L269.4,617.3 L272.3,617.3 L275.1,617.3 L278.0,617.3 L280.8,617.3 L283.6,617.3 L286.5,617.3 L289.3,617.3 L292.2,617.3 L295.0,617.3 L297.9,617.3 L300.7,617.3 L303.6,617.3 L306.4,617.3 L309.3,617.3 L312.1,617.3 L315.0,617.3 L317.8,617.3 L320.6,617.3 L323.5,617.3 L326.3,617.3 L329.2,617.3 L332.0,617.3 L334.9,617.3 L337.7,617.3 L340.6,617.3 L343.4,617.3 L346.3,617.2 L349.1,617.2 L352.0,617.2 L354.8,617.2 L357.7,617.2 L360.5,617.2 L363.3,617.2 L366.2,617.1 L369.0,617.1 L371.9,617.1 L374.7,617.1 L377.6,617.0 L380.4,617.0 L383.3,616.9 L386.1,616.9 L389.0,616.8 L391.8,616.7 L394.7,616.7 L397.5,616.6 L400.4,616.5 L403.2,616.4 L406.0,616.2 L408.9,616.1 L411.7,615.9 L414.6,615.8 L417.4,615.6 L420.3,615.4 L423.1,615.2 L426.0,615.0 L428.8,614.8 L431.7,614.5 L434.5,614.2 L437.4,613.9 L440.2,613.6 L443.0,613.3 L445.9,613.0 L448.7,612.6 L451.6,612.2 L454.4,611.8 L457.3,611.4 L460.1,611.0 L463.0,610.5 L465.8,610.1 L468.7,609.6 L471.5,609.0 L474.4,608.5 L477.2,607.9 L480.1,607.4 L482.9,606.8 L485.7,606.1 L488.6,605.5 L491.4,604.8 L494.3,604.2 L497.1,603.4 L500.0,602.7 L502.8,602.0 L505.7,601.2 L508.5,600.4 L511.4,599.6 L514.2,598.7 L517.1,597.8 L519.9,597.0 L522.8,596.0 L525.6,595.1 L528.4,594.2 L531.3,593.2 L534.1,592.2 L537.0,591.2 L539.8,590.1 L542.7,589.1 L545.5,588.0 L548.4,586.9 L551.2,585.8 L554.1,584.6 L556.9,583.4 L559.8,582.3 L562.6,581.1 L565.4,579.8 L568.3,578.6 L571.1,577.3 L574.0,576.1 L576.8,574.8 L579.7,573.4 L582.5,572.1 L585.4,570.7 L588.2,569.4 L591.1,568.0 L593.9,566.6 L596.8,565.1 L599.6,563.7 L602.5,562.2 L605.3,560.8 L608.1,559.3 L611.0,557.8 L613.8,556.2 L616.7,554.7 L619.5,553.1 L622.4,551.6 L625.2,550.0 L628.1,548.4 L630.9,546.7 L633.8,545.1 L636.6,543.5 L639.5,541.8 L642.3,540.1 L645.1,538.4 L648.0,536.7 L650.8,535.0 L653.7,533.2 L656.5,531.5 L659.4,529.7 L662.2,527.9 L665.1,526.1 L667.9,524.3 L670.8,522.5 L673.6,520.7 L676.5,518.8 L679.3,517.0 L682.2,515.1 L685.0,513.2 L687.8,511.3 L690.7,509.4 L693.5,507.5 L696.4,505.5 L699.2,503.6 L702.1,501.6 L704.9,499.7 L707.8,497.7 L710.6,495.7 L713.5,493.7 L716.3,491.7 L719.2,489.6 L722.0,487.6 L724.9,485.5 L727.7,483.5 L730.5,481.4 L733.4,479.3 L736.2,477.2 L739.1,475.1 L741.9,473.0 L744.8,470.9 L747.6,468.7 L750.5,466.6 L753.3,464.4 L756.2,462.2 L759.0,460.1 L761.9,457.9 L764.7,455.7 L767.5,453.4 L770.4,451.2 L773.2,449.0 L776.1,446.8 L778.9,444.5 L781.8,442.2 L784.6,440.0 L787.5,437.7 L790.3,435.4 L793.2,433.1 L796.0,430.8 L798.9,428.5 L801.7,426.2 L804.6,423.8 L807.4,421.5 L810.2,419.1 L813.1,416.8 L815.9,414.4 L818.8,412.0 L821.6,409.6 L824.5,407.2 L827.3,404.8 L830.2,402.4 L833.0,400.0 L835.9,397.6 L838.7,395.1 L841.6,392.7 L844.4,390.2 L847.3,387.7 L850.1,385.3 L852.9,382.8 L855.8,380.3 L858.6,377.8 L861.5,375.3 L864.3,372.8 L867.2,370.3 L870.0,367.8 L872.9,365.2 L875.7,362.7 L878.6,360.1 L881.4,357.6 L884.3,355.0 L887.1,352.4 L889.9,349.9 L892.8,347.3 L895.6,344.7 L898.5,342.1 L901.3,339.5 L904.2,336.8 L907.0,334.2 L909.9,331.6 L912.7,329.0 L915.6,326.3 L918.4,323.7 L921.3,321.0" stroke="#0000f0" stroke-width="3"/>
<path d="M176.2,612.3L186.2,622.3M176.2,622.3L186.2,612.3M204.6,612.3L214.6,622.3M204.6,622.3L214.6,612.3M233.1,612.3L243.1,622.3M233.1,622.3L243.1,612.3M261.6,612.3L271.6,622.3M261.6,622.3L271.6,612.3M290.0,612.3L300.0,622.3M290.0,622.3L300.0,612.3M318.5,612.3L328.5,622.3M318.5,622.3L328.5,612.3M347.0,612.2L357.0,622.2M347.0,622.2L357.0,612.2M375.4,612.0L385.4,622.0M375.4,622.0L385.4,612.0M403.9,611.1L413.9,621.1M403.9,621.1L413.9,611.1M432.4,608.9L442.4,618.9M432.4,618.9L442.4,608.9M460.8,605.1L470.8,615.1M460.8,615.1L470.8,605.1M489.3,599.2L499.3,609.2M489.3,609.2L499.3,599.2M517.8,591.0L527.8,601.0M517.8,601.0L527.8,591.0M546.2,580.8L556.2,590.8M546.2,590.8L556.2,580.8M574.7,568.4L584.7,578.4M574.7,578.4L584.7,568.4M603.1,554.3L613.1,564.3M603.1,564.3L613.1,554.3M631.6,538.5L641.6,548.5M631.6,548.5L641.6,538.5M660.1,521.1L670.1,531.1M660.1,531.1L670.1,521.1M688.5,502.5L698.5,512.5M688.5,512.5L698.5,502.5M717.0,482.6L727.0,492.6M717.0,492.6L727.0,482.6M745.5,461.6L755.5,471.6M745.5,471.6L755.5,461.6M773.9,439.5L783.9,449.5M773.9,449.5L783.9,439.5M802.4,416.5L812.4,426.5M802.4,426.5L812.4,416.5M830.9,392.6L840.9,402.6M830.9,402.6L840.9,392.6M859.3,367.8L869.3,377.8M859.3,377.8L869.3,367.8M887.8,342.3L897.8,352.3M887.8,352.3L897.8,342.3M916.3,316.0L926.3,326.0M916.3,326.0L926.3,316.0" stroke="#3030a8" stroke-width="1.3"/>
<path clip-path="url(#pa)" d="M181.2,674.1 L184.0,668.2 L186.9,662.4 L189.7,656.6 L192.6,650.8 L195.4,645.0 L198.2,639.2 L201.1,633.5 L203.9,627.8 L206.8,622.1 L209.6,616.4 L212.5,610.7 L215.3,605.1 L218.2,599.4 L221.0,593.8 L223.9,588.2 L226.7,582.7 L229.6,577.1 L232.4,571.6 L235.3,566.1 L238.1,560.6 L240.9,555.1 L243.8,549.7 L246.6,544.2 L249.5,538.8 L252.3,533.4 L255.2,528.0 L258.0,522.7 L260.9,517.3 L263.7,512.0 L266.6,506.7 L269.4,501.4 L272.3,496.2 L275.1,490.9 L278.0,485.7 L280.8,480.5 L283.6,475.3 L286.5,470.2 L289.3,465.0 L292.2,459.9 L295.0,454.8 L297.9,449.7 L300.7,444.6 L303.6,439.6 L306.4,434.6 L309.3,429.5 L312.1,424.5 L315.0,419.6 L317.8,414.6 L320.6,409.7 L323.5,404.8 L326.3,399.9 L329.2,395.0 L332.0,390.1 L334.9,385.3 L337.7,380.5 L340.6,375.7 L343.4,370.9 L346.3,366.2 L349.1,361.4 L352.0,356.7 L354.8,352.0 L357.7,347.3 L360.5,342.7 L363.3,338.0 L366.2,333.4 L369.0,328.8 L371.9,324.2 L374.7,319.6 L377.6,315.1 L380.4,310.6 L383.3,306.1 L386.1,301.6 L389.0,297.2 L391.8,292.7 L394.7,288.3 L397.5,284.0 L400.4,279.6 L403.2,275.3 L406.0,271.0 L408.9,266.7 L411.7,262.5 L414.6,258.3 L417.4,254.1 L420.3,250.0 L423.1,246.0 L426.0,241.9 L428.8,238.0 L431.7,234.1 L434.5,230.3 L437.4,226.5 L440.2,222.8 L443.0,219.2 L445.9,215.8 L448.7,212.4 L451.6,209.1 L454.4,205.9 L457.3,202.9 L460.1,200.0 L463.0,197.2 L465.8,194.5 L468.7,192.0 L471.5,189.5 L474.4,187.2 L477.2,185.0 L480.1,182.9 L482.9,180.9 L485.7,179.0 L488.6,177.2 L491.4,175.4 L494.3,173.7 L497.1,172.1 L500.0,170.5 L502.8,169.0 L505.7,167.5 L508.5,166.1 L511.4,164.7 L514.2,163.3 L517.1,162.0 L519.9,160.7 L522.8,159.4 L525.6,158.2 L528.4,156.9 L531.3,155.7 L534.1,154.5 L537.0,153.4 L539.8,152.2 L542.7,151.1 L545.5,150.0 L548.4,148.9 L551.2,147.8 L554.1,146.7 L556.9,145.7 L559.8,144.7 L562.6,143.6 L565.4,142.6 L568.3,141.6 L571.1,140.7 L574.0,139.7 L576.8,138.8 L579.7,137.8 L582.5,136.9 L585.4,136.0 L588.2,135.1 L591.1,134.2 L593.9,133.4 L596.8,132.5 L599.6,131.7 L602.5,130.8 L605.3,130.0 L608.1,129.2 L611.0,128.4 L613.8,127.6 L616.7,126.9 L619.5,126.1 L622.4,125.3 L625.2,124.6 L628.1,123.9 L630.9,123.1 L633.8,122.4 L636.6,121.7 L639.5,121.0 L642.3,120.4 L645.1,119.7 L648.0,119.0 L650.8,118.4 L653.7,117.7 L656.5,117.1 L659.4,116.4 L662.2,115.8 L665.1,115.2 L667.9,114.6 L670.8,114.0 L673.6,113.4 L676.5,112.9 L679.3,112.3 L682.2,111.7 L685.0,111.2 L687.8,110.6 L690.7,110.1 L693.5,109.5 L696.4,109.0 L699.2,108.5 L702.1,108.0 L704.9,107.5 L707.8,106.9 L710.6,106.5 L713.5,106.0 L716.3,105.5 L719.2,105.0 L722.0,104.5 L724.9,104.1 L727.7,103.6 L730.5,103.1 L733.4,102.7 L736.2,102.2 L739.1,101.8 L741.9,101.4 L744.8,100.9 L747.6,100.5 L750.5,100.1 L753.3,99.7 L756.2,99.3 L759.0,98.9 L761.9,98.5 L764.7,98.1 L767.5,97.7 L770.4,97.3 L773.2,96.9 L776.1,96.5 L778.9,96.1 L781.8,95.8 L784.6,95.4 L787.5,95.0 L790.3,94.7 L793.2,94.3 L796.0,93.9 L798.9,93.6 L801.7,93.2 L804.6,92.9 L807.4,92.6 L810.2,92.2 L813.1,91.9 L815.9,91.6 L818.8,91.2 L821.6,90.9 L824.5,90.6 L827.3,90.3 L830.2,89.9 L833.0,89.6 L835.9,89.3 L838.7,89.0 L841.6,88.7 L844.4,88.4 L847.3,88.1 L850.1,87.8 L852.9,87.5 L855.8,87.2 L858.6,86.9 L861.5,86.7 L864.3,86.4 L867.2,86.1 L870.0,85.8 L872.9,85.5 L875.7,85.3 L878.6,85.0 L881.4,84.7 L884.3,84.5 L887.1,84.2 L889.9,83.9 L892.8,83.7 L895.6,83.4 L898.5,83.1 L901.3,82.9 L904.2,82.6 L907.0,82.4 L909.9,82.1 L912.7,81.9 L915.6,81.6 L918.4,81.4 L921.3,81.2" stroke="#0000f0" stroke-width="2.8"/>
<path d="M290.0,449.8L300.0,459.8M290.0,459.8L300.0,449.8M318.5,399.8L328.5,409.8M318.5,409.8L328.5,399.8M347.0,351.7L357.0,361.7M347.0,361.7L357.0,351.7M375.4,305.6L385.4,315.6M375.4,315.6L385.4,305.6M403.9,261.7L413.9,271.7M403.9,271.7L413.9,261.7M432.4,221.5L442.4,231.5M432.4,231.5L442.4,221.5M460.8,189.5L470.8,199.5M460.8,199.5L470.8,189.5M489.3,168.7L499.3,178.7M489.3,178.7L499.3,168.7M517.8,154.4L527.8,164.4M517.8,164.4L527.8,154.4M546.2,142.8L556.2,152.8M546.2,152.8L556.2,142.8M574.7,132.8L584.7,142.8M574.7,142.8L584.7,132.8M603.1,124.2L613.1,134.2M603.1,134.2L613.1,124.2M631.6,116.7L641.6,126.7M631.6,126.7L641.6,116.7M660.1,110.2L670.1,120.2M660.1,120.2L670.1,110.2M688.5,104.5L698.5,114.5M688.5,114.5L698.5,104.5M717.0,99.5L727.0,109.5M717.0,109.5L727.0,99.5M745.5,95.1L755.5,105.1M745.5,105.1L755.5,95.1M773.9,91.1L783.9,101.1M773.9,101.1L783.9,91.1M802.4,87.6L812.4,97.6M802.4,97.6L812.4,87.6M830.9,84.3L840.9,94.3M830.9,94.3L840.9,84.3M859.3,81.4L869.3,91.4M859.3,91.4L869.3,81.4M887.8,78.7L897.8,88.7M887.8,88.7L897.8,78.7M916.3,76.2L926.3,86.2M916.3,86.2L926.3,76.2" stroke="#3030a8" stroke-width="1.3"/>
<path d="M181.2,617.3 L184.0,617.3 L186.9,617.3 L189.7,617.3 L192.6,617.3 L195.4,617.3 L198.2,617.3 L201.1,617.3 L203.9,617.3 L206.8,617.3 L209.6,617.3 L212.5,617.3 L215.3,617.3 L218.2,617.3 L221.0,617.3 L223.9,617.3 L226.7,617.3 L229.6,617.3 L232.4,617.3 L235.3,617.3 L238.1,617.3 L240.9,617.3 L243.8,617.3 L246.6,617.3 L249.5,617.3 L252.3,617.3 L255.2,617.3 L258.0,617.3 L260.9,617.3 L263.7,617.3 L266.6,617.3 L269.4,617.3 L272.3,617.3 L275.1,617.3 L278.0,617.3 L280.8,617.3 L283.6,617.3 L286.5,617.3 L289.3,617.3 L292.2,617.3 L295.0,617.3 L297.9,617.3 L300.7,617.3 L303.6,617.3 L306.4,617.3 L309.3,617.3 L312.1,617.3 L315.0,617.3 L317.8,617.3 L320.6,617.3 L323.5,617.3 L326.3,617.3 L329.2,617.3 L332.0,617.3 L334.9,617.3 L337.7,617.3 L340.6,617.3 L343.4,617.3 L346.3,617.3 L349.1,617.3 L352.0,617.3 L354.8,617.3 L357.7,617.3 L360.5,617.3 L363.3,617.3 L366.2,617.3 L369.0,617.3 L371.9,617.2 L374.7,617.2 L377.6,617.2 L380.4,617.2 L383.3,617.2 L386.1,617.2 L389.0,617.2 L391.8,617.1 L394.7,617.1 L397.5,617.1 L400.4,617.0 L403.2,617.0 L406.0,616.9 L408.9,616.9 L411.7,616.8 L414.6,616.7 L417.4,616.6 L420.3,616.5 L423.1,616.4 L426.0,616.2 L428.8,616.1 L431.7,615.9 L434.5,615.7 L437.4,615.5 L440.2,615.2 L443.0,614.9 L445.9,614.6 L448.7,614.2 L451.6,613.9 L454.4,613.5 L457.3,613.0 L460.1,612.5 L463.0,612.0 L465.8,611.5 L468.7,610.9 L471.5,610.4 L474.4,609.8 L477.2,609.2 L480.1,608.5 L482.9,607.9 L485.7,607.2 L488.6,606.5 L491.4,605.8 L494.3,605.1 L497.1,604.3 L500.0,603.6 L502.8,602.8 L505.7,602.0 L508.5,601.2 L511.4,600.4 L514.2,599.5 L517.1,598.7 L519.9,597.8 L522.8,596.9 L525.6,595.9 L528.4,594.9 L531.3,593.9 L534.1,592.9 L537.0,591.9 L539.8,590.8 L542.7,589.7 L545.5,588.6 L548.4,587.4 L551.2,586.3 L554.1,585.1 L556.9,583.8 L559.8,582.6 L562.6,581.3 L565.4,579.9 L568.3,578.6 L571.1,577.2 L574.0,575.8 L576.8,574.4 L579.7,572.9 L582.5,571.4 L585.4,569.9 L588.2,568.4 L591.1,566.8 L593.9,565.2 L596.8,563.6 L599.6,561.9 L602.5,560.2 L605.3,558.5 L608.1,556.8 L611.0,555.0 L613.8,553.3 L616.7,551.4 L619.5,549.6 L622.4,547.8 L625.2,545.9 L628.1,544.0 L630.9,542.0 L633.8,540.1 L636.6,538.1 L639.5,536.1 L642.3,534.1 L645.1,532.1 L648.0,530.0 L650.8,528.0 L653.7,525.9 L656.5,523.7 L659.4,521.6 L662.2,519.4 L665.1,517.3 L667.9,515.1 L670.8,512.9 L673.6,510.6 L676.5,508.4 L679.3,506.1 L682.2,503.9 L685.0,501.6 L687.8,499.3 L690.7,496.9 L693.5,494.6 L696.4,492.2 L699.2,489.9 L702.1,487.5 L704.9,485.1 L707.8,482.7 L710.6,480.3 L713.5,477.8 L716.3,475.4 L719.2,472.9 L722.0,470.4 L724.9,467.9 L727.7,465.4 L730.5,462.9 L733.4,460.4 L736.2,457.9 L739.1,455.3 L741.9,452.8 L744.8,450.2 L747.6,447.6 L750.5,445.1 L753.3,442.5 L756.2,439.9 L759.0,437.2 L761.9,434.6 L764.7,432.0 L767.5,429.4 L770.4,426.7 L773.2,424.0 L776.1,421.4 L778.9,418.7 L781.8,416.0 L784.6,413.3 L787.5,410.6 L790.3,407.9 L793.2,405.2 L796.0,402.5 L798.9,399.8 L801.7,397.1 L804.6,394.3 L807.4,391.6 L810.2,388.8 L813.1,386.1 L815.9,383.3 L818.8,380.5 L821.6,377.8 L824.5,375.0 L827.3,372.2 L830.2,369.4 L833.0,366.6 L835.9,363.8 L838.7,361.0 L841.6,358.1 L844.4,355.3 L847.3,352.5 L850.1,349.7 L852.9,346.8 L855.8,344.0 L858.6,341.1 L861.5,338.3 L864.3,335.4 L867.2,332.6 L870.0,329.7 L872.9,326.8 L875.7,323.9 L878.6,321.0 L881.4,318.2 L884.3,315.3 L887.1,312.4 L889.9,309.5 L892.8,306.6 L895.6,303.7 L898.5,300.8 L901.3,297.8 L904.2,294.9 L907.0,292.0 L909.9,289.1 L912.7,286.1 L915.6,283.2 L918.4,280.2 L921.3,277.3" stroke="#0000f0" stroke-width="3"/>
<path d="M176.2,612.3L186.2,622.3M176.2,622.3L186.2,612.3M204.6,612.3L214.6,622.3M204.6,622.3L214.6,612.3M233.1,612.3L243.1,622.3M233.1,622.3L243.1,612.3M261.6,612.3L271.6,622.3M261.6,622.3L271.6,612.3M290.0,612.3L300.0,622.3M290.0,622.3L300.0,612.3M318.5,612.3L328.5,622.3M318.5,622.3L328.5,612.3M347.0,612.3L357.0,622.3M347.0,622.3L357.0,612.3M375.4,612.2L385.4,622.2M375.4,622.2L385.4,612.2M403.9,611.9L413.9,621.9M403.9,621.9L413.9,611.9M432.4,610.5L442.4,620.5M432.4,620.5L442.4,610.5M460.8,606.5L470.8,616.5M460.8,616.5L470.8,606.5M489.3,600.1L499.3,610.1M489.3,610.1L499.3,600.1M517.8,591.9L527.8,601.9M517.8,601.9L527.8,591.9M546.2,581.3L556.2,591.3M546.2,591.3L556.2,581.3M574.7,567.9L584.7,577.9M574.7,577.9L584.7,567.9M603.1,551.8L613.1,561.8M603.1,561.8L613.1,551.8M631.6,533.1L641.6,543.1M631.6,543.1L641.6,533.1M660.1,512.3L670.1,522.3M660.1,522.3L670.1,512.3M688.5,489.6L698.5,499.6M688.5,499.6L698.5,489.6M717.0,465.4L727.0,475.4M717.0,475.4L727.0,465.4M745.5,440.1L755.5,450.1M745.5,450.1L755.5,440.1M773.9,413.7L783.9,423.7M773.9,423.7L783.9,413.7M802.4,386.6L812.4,396.6M802.4,396.6L812.4,386.6M830.9,358.8L840.9,368.8M830.9,368.8L840.9,358.8M859.3,330.4L869.3,340.4M859.3,340.4L869.3,330.4M887.8,301.6L897.8,311.6M887.8,311.6L897.8,301.6M916.3,272.3L926.3,282.3M916.3,282.3L926.3,272.3" stroke="#3030a8" stroke-width="1.3"/>
<path clip-path="url(#pa)" d="M181.2,736.8 L184.0,730.3 L186.9,723.8 L189.7,717.3 L192.6,710.8 L195.4,704.4 L198.2,698.0 L201.1,691.6 L203.9,685.2 L206.8,678.8 L209.6,672.5 L212.5,666.2 L215.3,659.9 L218.2,653.6 L221.0,647.4 L223.9,641.2 L226.7,634.9 L229.6,628.8 L232.4,622.6 L235.3,616.5 L238.1,610.4 L240.9,604.3 L243.8,598.2 L246.6,592.1 L249.5,586.1 L252.3,580.1 L255.2,574.1 L258.0,568.2 L260.9,562.2 L263.7,556.3 L266.6,550.4 L269.4,544.5 L272.3,538.7 L275.1,532.8 L278.0,527.0 L280.8,521.2 L283.6,515.5 L286.5,509.7 L289.3,504.0 L292.2,498.3 L295.0,492.6 L297.9,487.0 L300.7,481.3 L303.6,475.7 L306.4,470.1 L309.3,464.5 L312.1,459.0 L315.0,453.5 L317.8,447.9 L320.6,442.5 L323.5,437.0 L326.3,431.6 L329.2,426.1 L332.0,420.7 L334.9,415.4 L337.7,410.0 L340.6,404.7 L343.4,399.4 L346.3,394.1 L349.1,388.8 L352.0,383.6 L354.8,378.3 L357.7,373.1 L360.5,368.0 L363.3,362.8 L366.2,357.7 L369.0,352.5 L371.9,347.5 L374.7,342.4 L377.6,337.3 L380.4,332.3 L383.3,327.3 L386.1,322.3 L389.0,317.4 L391.8,312.4 L394.7,307.5 L397.5,302.6 L400.4,297.8 L403.2,292.9 L406.0,288.1 L408.9,283.4 L411.7,278.6 L414.6,273.9 L417.4,269.2 L420.3,264.5 L423.1,259.9 L426.0,255.4 L428.8,250.8 L431.7,246.4 L434.5,242.0 L437.4,237.6 L440.2,233.4 L443.0,229.2 L445.9,225.2 L448.7,221.2 L451.6,217.4 L454.4,213.7 L457.3,210.1 L460.1,206.7 L463.0,203.5 L465.8,200.4 L468.7,197.5 L471.5,194.8 L474.4,192.2 L477.2,189.8 L480.1,187.4 L482.9,185.2 L485.7,183.2 L488.6,181.2 L491.4,179.3 L494.3,177.4 L497.1,175.6 L500.0,173.9 L502.8,172.3 L505.7,170.7 L508.5,169.1 L511.4,167.6 L514.2,166.1 L517.1,164.6 L519.9,163.2 L522.8,161.7 L525.6,160.4 L528.4,159.0 L531.3,157.7 L534.1,156.3 L537.0,155.0 L539.8,153.8 L542.7,152.5 L545.5,151.3 L548.4,150.1 L551.2,148.9 L554.1,147.7 L556.9,146.5 L559.8,145.4 L562.6,144.3 L565.4,143.2 L568.3,142.1 L571.1,141.0 L574.0,140.0 L576.8,138.9 L579.7,137.9 L582.5,136.9 L585.4,135.9 L588.2,135.0 L591.1,134.0 L593.9,133.1 L596.8,132.1 L599.6,131.2 L602.5,130.3 L605.3,129.4 L608.1,128.6 L611.0,127.7 L613.8,126.9 L616.7,126.0 L619.5,125.2 L622.4,124.4 L625.2,123.6 L628.1,122.9 L630.9,122.1 L633.8,121.3 L636.6,120.6 L639.5,119.9 L642.3,119.1 L645.1,118.4 L648.0,117.7 L650.8,117.0 L653.7,116.4 L656.5,115.7 L659.4,115.0 L662.2,114.4 L665.1,113.7 L667.9,113.1 L670.8,112.5 L673.6,111.9 L676.5,111.3 L679.3,110.7 L682.2,110.1 L685.0,109.5 L687.8,108.9 L690.7,108.4 L693.5,107.8 L696.4,107.3 L699.2,106.7 L702.1,106.2 L704.9,105.7 L707.8,105.1 L710.6,104.6 L713.5,104.1 L716.3,103.6 L719.2,103.1 L722.0,102.6 L724.9,102.2 L727.7,101.7 L730.5,101.2 L733.4,100.8 L736.2,100.3 L739.1,99.8 L741.9,99.4 L744.8,99.0 L747.6,98.5 L750.5,98.1 L753.3,97.7 L756.2,97.2 L759.0,96.8 L761.9,96.4 L764.7,96.0 L767.5,95.6 L770.4,95.2 L773.2,94.8 L776.1,94.4 L778.9,94.0 L781.8,93.7 L784.6,93.3 L787.5,92.9 L790.3,92.5 L793.2,92.2 L796.0,91.8 L798.9,91.5 L801.7,91.1 L804.6,90.8 L807.4,90.4 L810.2,90.1 L813.1,89.7 L815.9,89.4 L818.8,89.1 L821.6,88.7 L824.5,88.4 L827.3,88.1 L830.2,87.8 L833.0,87.4 L835.9,87.1 L838.7,86.8 L841.6,86.5 L844.4,86.2 L847.3,85.9 L850.1,85.6 L852.9,85.3 L855.8,85.0 L858.6,84.7 L861.5,84.4 L864.3,84.1 L867.2,83.8 L870.0,83.6 L872.9,83.3 L875.7,83.0 L878.6,82.7 L881.4,82.5 L884.3,82.2 L887.1,81.9 L889.9,81.6 L892.8,81.4 L895.6,81.1 L898.5,80.9 L901.3,80.6 L904.2,80.3 L907.0,80.1 L909.9,79.8 L912.7,79.6 L915.6,79.3 L918.4,79.1 L921.3,78.8" stroke="#0000f0" stroke-width="2.8"/>
<path d="M290.0,487.6L300.0,497.6M290.0,497.6L300.0,487.6M318.5,432.0L328.5,442.0M318.5,442.0L328.5,432.0M347.0,378.6L357.0,388.6M347.0,388.6L357.0,378.6M375.4,327.3L385.4,337.3M375.4,337.3L385.4,327.3M403.9,278.4L413.9,288.4M403.9,288.4L413.9,278.4M432.4,232.6L442.4,242.6M432.4,242.6L442.4,232.6M460.8,195.4L470.8,205.4M460.8,205.4L470.8,195.4M489.3,172.4L499.3,182.4M489.3,182.4L499.3,172.4M517.8,156.7L527.8,166.7M517.8,166.7L527.8,156.7M546.2,143.9L556.2,153.9M546.2,153.9L556.2,143.9M574.7,132.9L584.7,142.9M574.7,142.9L584.7,132.9M603.1,123.6L613.1,133.6M603.1,133.6L613.1,123.6M631.6,115.6L641.6,125.6M631.6,125.6L641.6,115.6M660.1,108.7L670.1,118.7M660.1,118.7L670.1,108.7M688.5,102.8L698.5,112.8M688.5,112.8L698.5,102.8M717.0,97.6L727.0,107.6M717.0,107.6L727.0,97.6M745.5,93.1L755.5,103.1M745.5,103.1L755.5,93.1M773.9,89.0L783.9,99.0M773.9,99.0L783.9,89.0M802.4,85.4L812.4,95.4M802.4,95.4L812.4,85.4M830.9,82.1L840.9,92.1M830.9,92.1L840.9,82.1M859.3,79.1L869.3,89.1M859.3,89.1L869.3,79.1M887.8,76.4L897.8,86.4M887.8,86.4L897.8,76.4M916.3,73.8L926.3,83.8M916.3,83.8L926.3,73.8" stroke="#3030a8" stroke-width="1.3"/>
<path d="M181.2,617.3 L184.0,617.3 L186.9,617.3 L189.7,617.3 L192.6,617.3 L195.4,617.3 L198.2,617.3 L201.1,617.3 L203.9,617.3 L206.8,617.3 L209.6,617.3 L212.5,617.3 L215.3,617.3 L218.2,617.3 L221.0,617.3 L223.9,617.3 L226.7,617.3 L229.6,617.3 L232.4,617.3 L235.3,617.3 L238.1,617.3 L240.9,617.3 L243.8,617.3 L246.6,617.3 L249.5,617.3 L252.3,617.3 L255.2,617.3 L258.0,617.3 L260.9,617.3 L263.7,617.3 L266.6,617.3 L269.4,617.3 L272.3,617.3 L275.1,617.3 L278.0,617.3 L280.8,617.3 L283.6,617.3 L286.5,617.3 L289.3,617.3 L292.2,617.3 L295.0,617.3 L297.9,617.3 L300.7,617.3 L303.6,617.3 L306.4,617.3 L309.3,617.3 L312.1,617.3 L315.0,617.3 L317.8,617.3 L320.6,617.3 L323.5,617.3 L326.3,617.3 L329.2,617.3 L332.0,617.3 L334.9,617.3 L337.7,617.3 L340.6,617.3 L343.4,617.3 L346.3,617.3 L349.1,617.3 L352.0,617.3 L354.8,617.3 L357.7,617.3 L360.5,617.3 L363.3,617.3 L366.2,617.3 L369.0,617.3 L371.9,617.3 L374.7,617.3 L377.6,617.3 L380.4,617.3 L383.3,617.3 L386.1,617.2 L389.0,617.2 L391.8,617.2 L394.7,617.2 L397.5,617.2 L400.4,617.2 L403.2,617.1 L406.0,617.1 L408.9,617.1 L411.7,617.0 L414.6,617.0 L417.4,616.9 L420.3,616.8 L423.1,616.7 L426.0,616.6 L428.8,616.5 L431.7,616.4 L434.5,616.2 L437.4,616.1 L440.2,615.9 L443.0,615.6 L445.9,615.4 L448.7,615.1 L451.6,614.8 L454.4,614.4 L457.3,614.0 L460.1,613.6 L463.0,613.1 L465.8,612.6 L468.7,612.1 L471.5,611.6 L474.4,611.0 L477.2,610.4 L480.1,609.8 L482.9,609.2 L485.7,608.6 L488.6,607.9 L491.4,607.3 L494.3,606.6 L497.1,605.9 L500.0,605.2 L502.8,604.4 L505.7,603.7 L508.5,602.9 L511.4,602.0 L514.2,601.2 L517.1,600.3 L519.9,599.4 L522.8,598.5 L525.6,597.5 L528.4,596.5 L531.3,595.5 L534.1,594.5 L537.0,593.4 L539.8,592.3 L542.7,591.1 L545.5,589.9 L548.4,588.7 L551.2,587.4 L554.1,586.2 L556.9,584.8 L559.8,583.5 L562.6,582.1 L565.4,580.7 L568.3,579.2 L571.1,577.7 L574.0,576.2 L576.8,574.6 L579.7,573.0 L582.5,571.4 L585.4,569.8 L588.2,568.1 L591.1,566.4 L593.9,564.6 L596.8,562.8 L599.6,561.0 L602.5,559.2 L605.3,557.3 L608.1,555.4 L611.0,553.5 L613.8,551.5 L616.7,549.5 L619.5,547.5 L622.4,545.4 L625.2,543.4 L628.1,541.3 L630.9,539.1 L633.8,537.0 L636.6,534.8 L639.5,532.6 L642.3,530.4 L645.1,528.2 L648.0,525.9 L650.8,523.6 L653.7,521.3 L656.5,518.9 L659.4,516.6 L662.2,514.2 L665.1,511.8 L667.9,509.4 L670.8,506.9 L673.6,504.5 L676.5,502.0 L679.3,499.5 L682.2,497.0 L685.0,494.5 L687.8,491.9 L690.7,489.4 L693.5,486.8 L696.4,484.2 L699.2,481.6 L702.1,479.0 L704.9,476.3 L707.8,473.7 L710.6,471.0 L713.5,468.3 L716.3,465.6 L719.2,462.9 L722.0,460.2 L724.9,457.4 L727.7,454.7 L730.5,451.9 L733.4,449.1 L736.2,446.3 L739.1,443.5 L741.9,440.7 L744.8,437.9 L747.6,435.1 L750.5,432.2 L753.3,429.4 L756.2,426.5 L759.0,423.7 L761.9,420.8 L764.7,417.9 L767.5,415.0 L770.4,412.1 L773.2,409.2 L776.1,406.2 L778.9,403.3 L781.8,400.3 L784.6,397.4 L787.5,394.4 L790.3,391.5 L793.2,388.5 L796.0,385.5 L798.9,382.5 L801.7,379.5 L804.6,376.5 L807.4,373.5 L810.2,370.4 L813.1,367.4 L815.9,364.4 L818.8,361.3 L821.6,358.3 L824.5,355.2 L827.3,352.2 L830.2,349.1 L833.0,346.0 L835.9,342.9 L838.7,339.8 L841.6,336.7 L844.4,333.6 L847.3,330.5 L850.1,327.4 L852.9,324.3 L855.8,321.2 L858.6,318.0 L861.5,314.9 L864.3,311.8 L867.2,308.6 L870.0,305.5 L872.9,302.3 L875.7,299.1 L878.6,296.0 L881.4,292.8 L884.3,289.6 L887.1,286.4 L889.9,283.2 L892.8,280.0 L895.6,276.8 L898.5,273.6 L901.3,270.4 L904.2,267.2 L907.0,264.0 L909.9,260.8 L912.7,257.5 L915.6,254.3 L918.4,251.1 L921.3,247.8" stroke="#0000f0" stroke-width="3"/>
<path d="M176.2,612.3L186.2,622.3M176.2,622.3L186.2,612.3M204.6,612.3L214.6,622.3M204.6,622.3L214.6,612.3M233.1,612.3L243.1,622.3M233.1,622.3L243.1,612.3M261.6,612.3L271.6,622.3M261.6,622.3L271.6,612.3M290.0,612.3L300.0,622.3M290.0,622.3L300.0,612.3M318.5,612.3L328.5,622.3M318.5,622.3L328.5,612.3M347.0,612.3L357.0,622.3M347.0,622.3L357.0,612.3M375.4,612.3L385.4,622.3M375.4,622.3L385.4,612.3M403.9,612.1L413.9,622.1M403.9,622.1L413.9,612.1M432.4,611.1L442.4,621.1M432.4,621.1L442.4,611.1M460.8,607.6L470.8,617.6M460.8,617.6L470.8,607.6M489.3,601.6L499.3,611.6M489.3,611.6L499.3,601.6M517.8,593.5L527.8,603.5M517.8,603.5L527.8,593.5M546.2,582.4L556.2,592.4M546.2,592.4L556.2,582.4M574.7,568.0L584.7,578.0M574.7,578.0L584.7,568.0M603.1,550.4L613.1,560.4M603.1,560.4L613.1,550.4M631.6,529.8L641.6,539.8M631.6,539.8L641.6,529.8M660.1,506.8L670.1,516.8M660.1,516.8L670.1,506.8M688.5,481.8L698.5,491.8M688.5,491.8L698.5,481.8M717.0,455.2L727.0,465.2M717.0,465.2L727.0,455.2M745.5,427.2L755.5,437.2M745.5,437.2L755.5,427.2M773.9,398.3L783.9,408.3M773.9,408.3L783.9,398.3M802.4,368.5L812.4,378.5M802.4,378.5L812.4,368.5M830.9,337.9L840.9,347.9M830.9,347.9L840.9,337.9M859.3,306.8L869.3,316.8M859.3,316.8L869.3,306.8M887.8,275.0L897.8,285.0M887.8,285.0L897.8,275.0M916.3,242.8L926.3,252.8M916.3,252.8L926.3,242.8" stroke="#3030a8" stroke-width="1.3"/>
<path clip-path="url(#pa)" d="M181.2,806.0 L184.0,798.9 L186.9,791.7 L189.7,784.6 L192.6,777.5 L195.4,770.5 L198.2,763.4 L201.1,756.4 L203.9,749.4 L206.8,742.4 L209.6,735.5 L212.5,728.5 L215.3,721.6 L218.2,714.7 L221.0,707.8 L223.9,701.0 L226.7,694.2 L229.6,687.4 L232.4,680.6 L235.3,673.8 L238.1,667.1 L240.9,660.4 L243.8,653.7 L246.6,647.0 L249.5,640.3 L252.3,633.7 L255.2,627.1 L258.0,620.5 L260.9,613.9 L263.7,607.4 L266.6,600.9 L269.4,594.4 L272.3,587.9 L275.1,581.5 L278.0,575.0 L280.8,568.6 L283.6,562.2 L286.5,555.9 L289.3,549.5 L292.2,543.2 L295.0,536.9 L297.9,530.6 L300.7,524.4 L303.6,518.1 L306.4,511.9 L309.3,505.7 L312.1,499.6 L315.0,493.4 L317.8,487.3 L320.6,481.2 L323.5,475.1 L326.3,469.1 L329.2,463.0 L332.0,457.0 L334.9,451.0 L337.7,445.1 L340.6,439.1 L343.4,433.2 L346.3,427.3 L349.1,421.4 L352.0,415.5 L354.8,409.7 L357.7,403.9 L360.5,398.1 L363.3,392.3 L366.2,386.6 L369.0,380.9 L371.9,375.1 L374.7,369.5 L377.6,363.8 L380.4,358.2 L383.3,352.5 L386.1,347.0 L389.0,341.4 L391.8,335.8 L394.7,330.3 L397.5,324.8 L400.4,319.3 L403.2,313.8 L406.0,308.4 L408.9,303.0 L411.7,297.6 L414.6,292.2 L417.4,286.9 L420.3,281.5 L423.1,276.2 L426.0,271.0 L428.8,265.7 L431.7,260.5 L434.5,255.3 L437.4,250.1 L440.2,245.0 L443.0,239.9 L445.9,234.8 L448.7,229.9 L451.6,225.1 L454.4,220.4 L457.3,216.0 L460.1,211.8 L463.0,208.0 L465.8,204.5 L468.7,201.4 L471.5,198.6 L474.4,196.0 L477.2,193.7 L480.1,191.4 L482.9,189.3 L485.7,187.3 L488.6,185.3 L491.4,183.4 L494.3,181.5 L497.1,179.7 L500.0,177.9 L502.8,176.1 L505.7,174.4 L508.5,172.6 L511.4,170.9 L514.2,169.3 L517.1,167.6 L519.9,166.0 L522.8,164.4 L525.6,162.9 L528.4,161.3 L531.3,159.8 L534.1,158.4 L537.0,156.9 L539.8,155.5 L542.7,154.1 L545.5,152.7 L548.4,151.3 L551.2,150.0 L554.1,148.7 L556.9,147.4 L559.8,146.1 L562.6,144.9 L565.4,143.7 L568.3,142.5 L571.1,141.3 L574.0,140.1 L576.8,139.0 L579.7,137.9 L582.5,136.8 L585.4,135.7 L588.2,134.7 L591.1,133.6 L593.9,132.6 L596.8,131.6 L599.6,130.6 L602.5,129.7 L605.3,128.7 L608.1,127.8 L611.0,126.9 L613.8,126.0 L616.7,125.1 L619.5,124.2 L622.4,123.4 L625.2,122.5 L628.1,121.7 L630.9,120.9 L633.8,120.1 L636.6,119.3 L639.5,118.6 L642.3,117.8 L645.1,117.1 L648.0,116.3 L650.8,115.6 L653.7,114.9 L656.5,114.2 L659.4,113.5 L662.2,112.8 L665.1,112.2 L667.9,111.5 L670.8,110.9 L673.6,110.3 L676.5,109.6 L679.3,109.0 L682.2,108.4 L685.0,107.8 L687.8,107.2 L690.7,106.7 L693.5,106.1 L696.4,105.5 L699.2,105.0 L702.1,104.4 L704.9,103.9 L707.8,103.4 L710.6,102.8 L713.5,102.3 L716.3,101.8 L719.2,101.3 L722.0,100.8 L724.9,100.3 L727.7,99.9 L730.5,99.4 L733.4,98.9 L736.2,98.5 L739.1,98.0 L741.9,97.5 L744.8,97.1 L747.6,96.7 L750.5,96.2 L753.3,95.8 L756.2,95.4 L759.0,94.9 L761.9,94.5 L764.7,94.1 L767.5,93.7 L770.4,93.3 L773.2,92.9 L776.1,92.5 L778.9,92.1 L781.8,91.8 L784.6,91.4 L787.5,91.0 L790.3,90.6 L793.2,90.3 L796.0,89.9 L798.9,89.5 L801.7,89.2 L804.6,88.8 L807.4,88.5 L810.2,88.1 L813.1,87.8 L815.9,87.5 L818.8,87.1 L821.6,86.8 L824.5,86.5 L827.3,86.1 L830.2,85.8 L833.0,85.5 L835.9,85.2 L838.7,84.9 L841.6,84.6 L844.4,84.2 L847.3,83.9 L850.1,83.6 L852.9,83.3 L855.8,83.0 L858.6,82.7 L861.5,82.5 L864.3,82.2 L867.2,81.9 L870.0,81.6 L872.9,81.3 L875.7,81.0 L878.6,80.8 L881.4,80.5 L884.3,80.2 L887.1,79.9 L889.9,79.7 L892.8,79.4 L895.6,79.1 L898.5,78.9 L901.3,78.6 L904.2,78.4 L907.0,78.1 L909.9,77.8 L912.7,77.6 L915.6,77.3 L918.4,77.1 L921.3,76.8" stroke="#0000f0" stroke-width="2.8"/>
<path d="M318.5,470.1L328.5,480.1M318.5,480.1L328.5,470.1M347.0,410.5L357.0,420.5M347.0,420.5L357.0,410.5M375.4,353.2L385.4,363.2M375.4,363.2L385.4,353.2M403.9,298.0L413.9,308.0M403.9,308.0L413.9,298.0M432.4,245.1L442.4,255.1M432.4,255.1L442.4,245.1M460.8,199.5L470.8,209.5M460.8,209.5L470.8,199.5M489.3,176.5L499.3,186.5M489.3,186.5L499.3,176.5M517.8,159.4L527.8,169.4M517.8,169.4L527.8,159.4M546.2,145.0L556.2,155.0M546.2,155.0L556.2,145.0M574.7,132.9L584.7,142.9M574.7,142.9L584.7,132.9M603.1,122.8L613.1,132.8M603.1,132.8L613.1,122.8M631.6,114.3L641.6,124.3M631.6,124.3L641.6,114.3M660.1,107.2L670.1,117.2M660.1,117.2L670.1,107.2M688.5,101.1L698.5,111.1M688.5,111.1L698.5,101.1M717.0,95.8L727.0,105.8M717.0,105.8L727.0,95.8M745.5,91.2L755.5,101.2M745.5,101.2L755.5,91.2M773.9,87.1L783.9,97.1M773.9,97.1L783.9,87.1M802.4,83.5L812.4,93.5M802.4,93.5L812.4,83.5M830.9,80.2L840.9,90.2M830.9,90.2L840.9,80.2M859.3,77.2L869.3,87.2M859.3,87.2L869.3,77.2M887.8,74.4L897.8,84.4M887.8,84.4L897.8,74.4M916.3,71.8L926.3,81.8M916.3,81.8L926.3,71.8" stroke="#3030a8" stroke-width="1.3"/>
<path d="M181.2,617.3 L184.0,617.3 L186.9,617.3 L189.7,617.3 L192.6,617.3 L195.4,617.3 L198.2,617.3 L201.1,617.3 L203.9,617.3 L206.8,617.3 L209.6,617.3 L212.5,617.3 L215.3,617.3 L218.2,617.3 L221.0,617.3 L223.9,617.3 L226.7,617.3 L229.6,617.3 L232.4,617.3 L235.3,617.3 L238.1,617.3 L240.9,617.3 L243.8,617.3 L246.6,617.3 L249.5,617.3 L252.3,617.3 L255.2,617.3 L258.0,617.3 L260.9,617.3 L263.7,617.3 L266.6,617.3 L269.4,617.3 L272.3,617.3 L275.1,617.3 L278.0,617.3 L280.8,617.3 L283.6,617.3 L286.5,617.3 L289.3,617.3 L292.2,617.3 L295.0,617.3 L297.9,617.3 L300.7,617.3 L303.6,617.3 L306.4,617.3 L309.3,617.3 L312.1,617.3 L315.0,617.3 L317.8,617.3 L320.6,617.3 L323.5,617.3 L326.3,617.3 L329.2,617.3 L332.0,617.3 L334.9,617.3 L337.7,617.3 L340.6,617.3 L343.4,617.3 L346.3,617.3 L349.1,617.3 L352.0,617.3 L354.8,617.3 L357.7,617.3 L360.5,617.3 L363.3,617.3 L366.2,617.3 L369.0,617.3 L371.9,617.3 L374.7,617.3 L377.6,617.3 L380.4,617.3 L383.3,617.3 L386.1,617.3 L389.0,617.3 L391.8,617.3 L394.7,617.3 L397.5,617.2 L400.4,617.2 L403.2,617.2 L406.0,617.2 L408.9,617.2 L411.7,617.2 L414.6,617.1 L417.4,617.1 L420.3,617.0 L423.1,617.0 L426.0,616.9 L428.8,616.9 L431.7,616.8 L434.5,616.6 L437.4,616.5 L440.2,616.4 L443.0,616.2 L445.9,615.9 L448.7,615.7 L451.6,615.4 L454.4,615.0 L457.3,614.6 L460.1,614.2 L463.0,613.7 L465.8,613.2 L468.7,612.8 L471.5,612.3 L474.4,611.8 L477.2,611.3 L480.1,610.8 L482.9,610.3 L485.7,609.8 L488.6,609.2 L491.4,608.7 L494.3,608.1 L497.1,607.4 L500.0,606.8 L502.8,606.1 L505.7,605.3 L508.5,604.6 L511.4,603.8 L514.2,603.0 L517.1,602.1 L519.9,601.2 L522.8,600.2 L525.6,599.2 L528.4,598.2 L531.3,597.2 L534.1,596.1 L537.0,594.9 L539.8,593.7 L542.7,592.5 L545.5,591.3 L548.4,590.0 L551.2,588.6 L554.1,587.2 L556.9,585.8 L559.8,584.3 L562.6,582.8 L565.4,581.3 L568.3,579.7 L571.1,578.1 L574.0,576.4 L576.8,574.7 L579.7,573.0 L582.5,571.2 L585.4,569.4 L588.2,567.5 L591.1,565.7 L593.9,563.7 L596.8,561.8 L599.6,559.8 L602.5,557.8 L605.3,555.7 L608.1,553.6 L611.0,551.5 L613.8,549.3 L616.7,547.1 L619.5,544.9 L622.4,542.7 L625.2,540.4 L628.1,538.1 L630.9,535.7 L633.8,533.4 L636.6,531.0 L639.5,528.6 L642.3,526.1 L645.1,523.7 L648.0,521.2 L650.8,518.7 L653.7,516.1 L656.5,513.6 L659.4,511.0 L662.2,508.4 L665.1,505.8 L667.9,503.1 L670.8,500.5 L673.6,497.8 L676.5,495.1 L679.3,492.4 L682.2,489.6 L685.0,486.9 L687.8,484.1 L690.7,481.3 L693.5,478.5 L696.4,475.7 L699.2,472.8 L702.1,470.0 L704.9,467.1 L707.8,464.2 L710.6,461.3 L713.5,458.4 L716.3,455.5 L719.2,452.5 L722.0,449.6 L724.9,446.6 L727.7,443.6 L730.5,440.6 L733.4,437.6 L736.2,434.6 L739.1,431.6 L741.9,428.6 L744.8,425.5 L747.6,422.4 L750.5,419.4 L753.3,416.3 L756.2,413.2 L759.0,410.1 L761.9,407.0 L764.7,403.9 L767.5,400.7 L770.4,397.6 L773.2,394.4 L776.1,391.3 L778.9,388.1 L781.8,384.9 L784.6,381.8 L787.5,378.6 L790.3,375.4 L793.2,372.1 L796.0,368.9 L798.9,365.7 L801.7,362.5 L804.6,359.2 L807.4,356.0 L810.2,352.7 L813.1,349.4 L815.9,346.2 L818.8,342.9 L821.6,339.6 L824.5,336.3 L827.3,333.0 L830.2,329.7 L833.0,326.4 L835.9,323.0 L838.7,319.7 L841.6,316.4 L844.4,313.0 L847.3,309.7 L850.1,306.3 L852.9,302.9 L855.8,299.6 L858.6,296.2 L861.5,292.8 L864.3,289.4 L867.2,286.0 L870.0,282.6 L872.9,279.2 L875.7,275.8 L878.6,272.4 L881.4,269.0 L884.3,265.5 L887.1,262.1 L889.9,258.6 L892.8,255.2 L895.6,251.7 L898.5,248.3 L901.3,244.8 L904.2,241.3 L907.0,237.9 L909.9,234.4 L912.7,230.9 L915.6,227.4 L918.4,223.9 L921.3,220.4" stroke="#0000f0" stroke-width="3"/>
<path d="M176.2,612.3L186.2,622.3M176.2,622.3L186.2,612.3M204.6,612.3L214.6,622.3M204.6,622.3L214.6,612.3M233.1,612.3L243.1,622.3M233.1,622.3L243.1,612.3M261.6,612.3L271.6,622.3M261.6,622.3L271.6,612.3M290.0,612.3L300.0,622.3M290.0,622.3L300.0,612.3M318.5,612.3L328.5,622.3M318.5,622.3L328.5,612.3M347.0,612.3L357.0,622.3M347.0,622.3L357.0,612.3M375.4,612.3L385.4,622.3M375.4,622.3L385.4,612.3M403.9,612.2L413.9,622.2M403.9,622.2L413.9,612.2M432.4,611.5L442.4,621.5M432.4,621.5L442.4,611.5M460.8,608.2L470.8,618.2M460.8,618.2L470.8,608.2M489.3,603.1L499.3,613.1M489.3,613.1L499.3,603.1M517.8,595.2L527.8,605.2M517.8,605.2L527.8,595.2M546.2,583.6L556.2,593.6M546.2,593.6L556.2,583.6M574.7,568.0L584.7,578.0M574.7,578.0L584.7,568.0M603.1,548.6L613.1,558.6M603.1,558.6L613.1,548.6M631.6,526.0L641.6,536.0M631.6,536.0L641.6,526.0M660.1,500.8L670.1,510.8M660.1,510.8L670.1,500.8M688.5,473.5L698.5,483.5M688.5,483.5L698.5,473.5M717.0,444.6L727.0,454.6M717.0,454.6L727.0,444.6M745.5,414.4L755.5,424.4M745.5,424.4L755.5,414.4M773.9,383.1L783.9,393.1M773.9,393.1L783.9,383.1M802.4,351.0L812.4,361.0M802.4,361.0L812.4,351.0M830.9,318.0L840.9,328.0M830.9,328.0L840.9,318.0M859.3,284.4L869.3,294.4M859.3,294.4L869.3,284.4M887.8,250.2L897.8,260.2M887.8,260.2L897.8,250.2M916.3,215.4L926.3,225.4M916.3,225.4L926.3,215.4" stroke="#3030a8" stroke-width="1.3"/>
<path d="M175.7,442.6L186.7,453.6M175.7,453.6L186.7,442.6M175.7,521.0L186.7,532.0M175.7,532.0L186.7,521.0M175.7,528.0L186.7,539.0M175.7,539.0L186.7,528.0M175.7,548.3L186.7,559.3M175.7,559.3L186.7,548.3M204.1,443.7L215.1,454.7M204.1,454.7L215.1,443.7M204.1,525.0L215.1,536.0M204.1,536.0L215.1,525.0M204.1,540.5L215.1,551.5M204.1,551.5L215.1,540.5M204.1,555.1L215.1,566.1M204.1,566.1L215.1,555.1M232.6,439.2L243.6,450.2M232.6,450.2L243.6,439.2M232.6,521.2L243.6,532.2M232.6,532.2L243.6,521.2M232.6,543.5L243.6,554.5M232.6,554.5L243.6,543.5M261.1,421.2L272.1,432.2M261.1,432.2L272.1,421.2M261.1,490.9L272.1,501.9M261.1,501.9L272.1,490.9M261.1,528.5L272.1,539.5M261.1,539.5L272.1,528.5M289.5,513.5L300.5,524.5M289.5,524.5L300.5,513.5" stroke="#3030a8" stroke-width="1.5"/>
</g>
<line x1="266.6" y1="402.7" x2="199.7" y2="402.8" stroke="#000" stroke-width="2.4"/>
<polygon points="171.3,402.7 199.7,395.5 199.7,410" fill="#000"/>
<line x1="890.6" y1="374.2" x2="914.8" y2="374.4" stroke="#000" stroke-width="2.4"/>
<polygon points="942.8,374.2 914.8,367.8 914.8,381" fill="#000"/>
<line x1="402" y1="389.5" x2="327.1" y2="319.1" stroke="#000" stroke-width="2.4"/>
<polygon points="307.6,300.2 322,323.8 332.1,314.5" fill="#000"/>
<line x1="713.9" y1="400" x2="785.0" y2="470.7" stroke="#000" stroke-width="2.4"/>
<polygon points="804.2,488.8 780.3,475.7 789.6,465.7" fill="#000"/>
<line x1="636.8" y1="198.8" x2="636.9" y2="186.5" stroke="#000" stroke-width="1.6"/>
<polygon points="636.8,172.3 632.6,186.5 641.1,186.5" fill="#000"/>
<line x1="778.2" y1="329.5" x2="793.0" y2="343.7" stroke="#000" stroke-width="1.6"/>
<polygon points="802.9,353.5 790.2,346.5 795.9,340.9" fill="#000"/>
<text x="138.5" y="54.4" font-size="29" text-anchor="end">10<tspan dx="-1.5" dy="-17.2" font-size="20.5">-4</tspan></text>
<text x="138.5" y="118.5" font-size="29" text-anchor="end">10<tspan dx="-1.5" dy="-17.2" font-size="20.5">-5</tspan></text>
<text x="138.5" y="182.6" font-size="29" text-anchor="end">10<tspan dx="-1.5" dy="-17.2" font-size="20.5">-6</tspan></text>
<text x="138.5" y="246.7" font-size="29" text-anchor="end">10<tspan dx="-1.5" dy="-17.2" font-size="20.5">-7</tspan></text>
<text x="138.5" y="310.8" font-size="29" text-anchor="end">10<tspan dx="-1.5" dy="-17.2" font-size="20.5">-8</tspan></text>
<text x="138.5" y="374.9" font-size="29" text-anchor="end">10<tspan dx="-1.5" dy="-17.2" font-size="20.5">-9</tspan></text>
<text x="138.5" y="439.0" font-size="29" text-anchor="end">10<tspan dx="-1.5" dy="-17.2" font-size="20.5">-10</tspan></text>
<text x="138.5" y="503.1" font-size="29" text-anchor="end">10<tspan dx="-1.5" dy="-17.2" font-size="20.5">-11</tspan></text>
<text x="138.5" y="567.2" font-size="29" text-anchor="end">10<tspan dx="-1.5" dy="-17.2" font-size="20.5">-12</tspan></text>
<text x="138.5" y="631.3" font-size="29" text-anchor="end">10<tspan dx="-1.5" dy="-17.2" font-size="20.5">-13</tspan></text>
<text x="973.5" y="627.8" font-size="29">0</text>
<text x="973.5" y="554.3" font-size="29">5</text>
<text x="973.5" y="480.8" font-size="29">10</text>
<text x="973.5" y="407.3" font-size="29">15</text>
<text x="973.5" y="333.8" font-size="29">20</text>
<text x="973.5" y="260.3" font-size="29">25</text>
<text x="973.5" y="186.8" font-size="29">30</text>
<text x="973.5" y="113.3" font-size="29">35</text>
<text x="973.5" y="39.8" font-size="29">40</text>
<text x="239.1" y="657" font-size="29" text-anchor="middle">0.0</text>
<text x="353.0" y="657" font-size="29" text-anchor="middle">0.2</text>
<text x="466.8" y="657" font-size="29" text-anchor="middle">0.4</text>
<text x="580.7" y="657" font-size="29" text-anchor="middle">0.6</text>
<text x="694.5" y="657" font-size="29" text-anchor="middle">0.8</text>
<text x="808.4" y="657" font-size="29" text-anchor="middle">1.0</text>
<text x="922.3" y="657" font-size="29" text-anchor="middle">1.2</text>
<text transform="translate(399.27,698.30) scale(1.0829,1)" font-size="31.88">Gate voltage,</text>
<text transform="translate(614.25,698.30) scale(0.9433,1)" font-size="31.88">V</text>
<text transform="translate(634.65,710.30) scale(0.8210,1)" font-size="23.19">GS</text>
<text transform="translate(669.14,698.30) scale(1.0757,1)" font-size="31.88">(V)</text>
<text transform="translate(59.10,474.82) rotate(-90) scale(1.0809,1)" font-size="32.61">Drain current,</text>
<text transform="translate(59.10,251.97) rotate(-90) scale(0.7747,1)" font-size="32.61">I</text>
<text transform="translate(71.30,242.41) rotate(-90) scale(0.8978,1)" font-size="22.46">D</text>
<text transform="translate(59.10,215.94) rotate(-90) scale(0.9428,1)" font-size="32.61">(A)</text>
<text transform="translate(1024.60,294.87) rotate(90) scale(0.9567,1)" font-size="29.71">x10</text>
<text transform="translate(1041.40,340.65) rotate(90) scale(1.0053,1)" font-size="21.01">-6</text>
<text transform="translate(211.26,80.90) scale(0.9529,1)" font-size="29.42">H</text>
<text transform="translate(232.26,92.30) scale(1.0423,1)" font-size="17.83">Si</text>
<text transform="translate(257.02,80.90) scale(1.0713,1)" font-size="29.42">= 60 nm</text>
<text transform="translate(211.65,132.20) scale(1.0506,1)" font-size="29.42">W</text>
<text transform="translate(240.71,143.40) scale(1.1075,1)" font-size="17.83">Si</text>
<text transform="translate(265.52,132.20) scale(1.0742,1)" font-size="29.42">= 30 nm</text>
<text transform="translate(210.22,183.30) scale(1.0292,1)" font-size="30.14">L = 1 μm</text>
<text transform="translate(557.87,231.80) scale(0.8736,1)" font-size="29.71">V</text>
<text transform="translate(576.24,243.20) scale(0.8420,1)" font-size="23.19">DS</text>
<text transform="translate(610.28,231.80) scale(1.0235,1)" font-size="29.71">= 0.05V</text>
<text transform="translate(696.16,311.10) scale(0.9319,1)" font-size="30.14">V</text>
<text transform="translate(714.63,321.80) scale(0.9366,1)" font-size="21.01">DS</text>
<text transform="translate(748.72,311.10) scale(0.9838,1)" font-size="30.14">= 1V</text>
<text transform="translate(427.98,386.20) scale(1.0056,1)" font-size="30.87">T = 273.15, 298.15,</text>
<text transform="translate(428.06,428.40) scale(1.0016,1)" font-size="30.87">323.15, 373.15 K</text>
</svg></body></html>
